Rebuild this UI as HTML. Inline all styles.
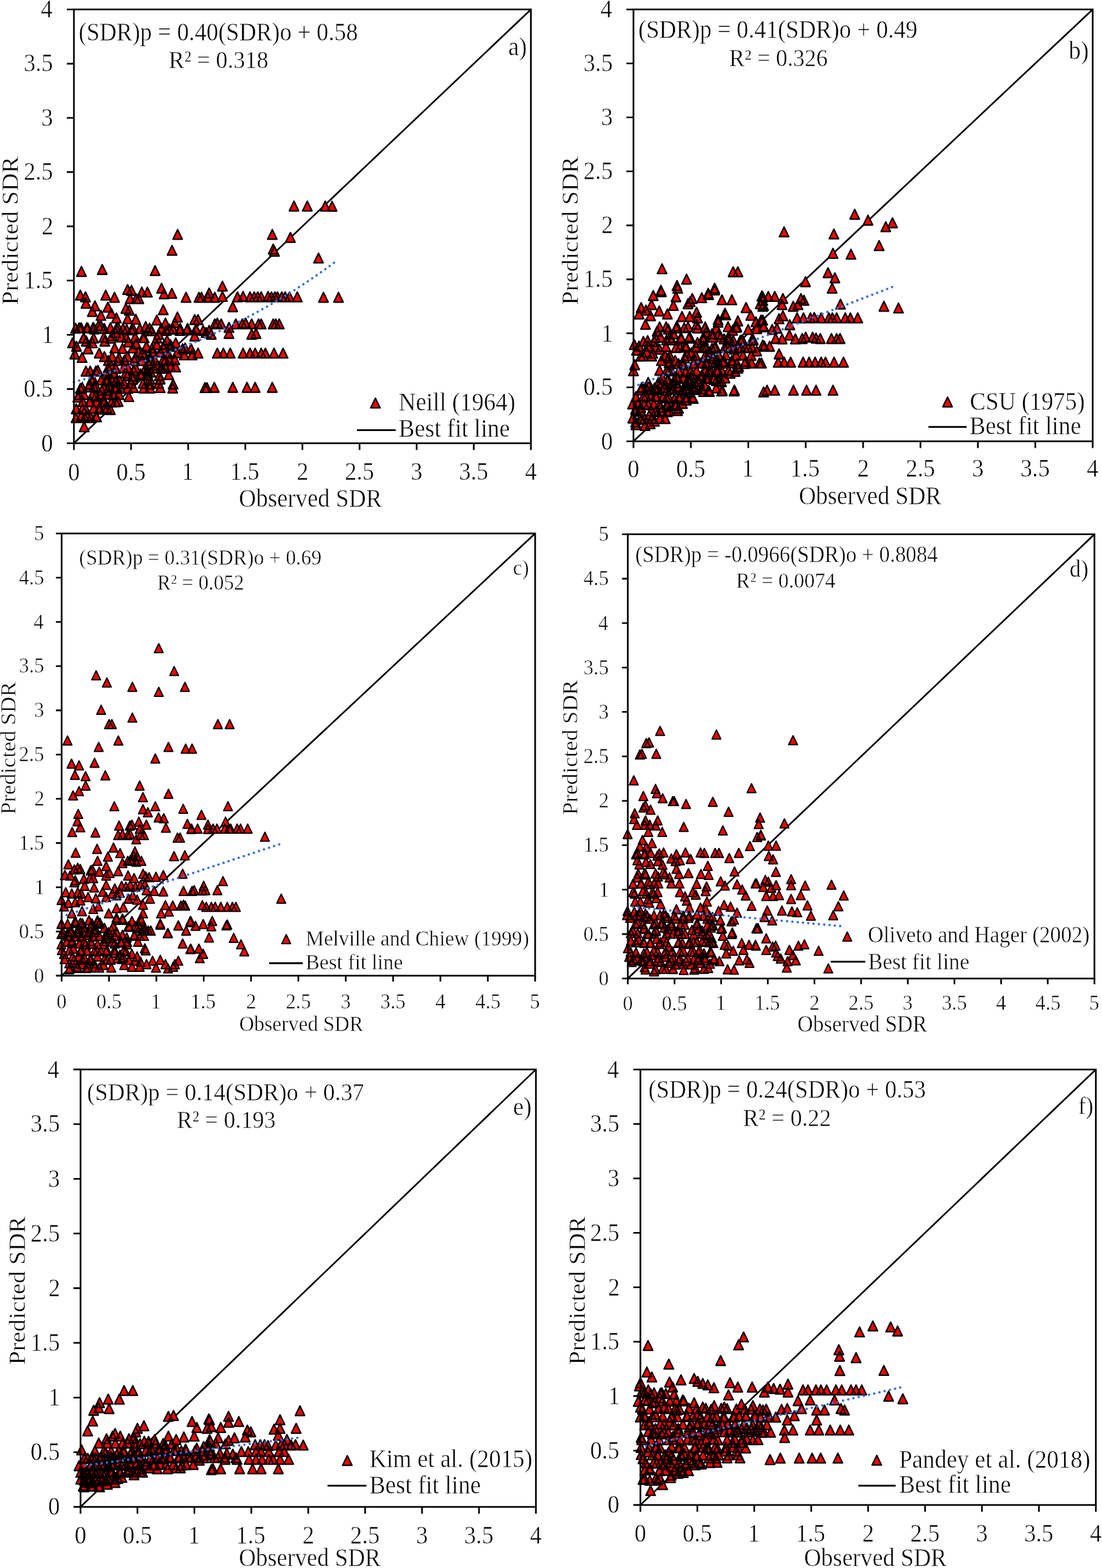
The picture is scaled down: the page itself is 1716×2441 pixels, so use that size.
<!DOCTYPE html>
<html><head><meta charset="utf-8"><title>SDR comparison</title>
<style>html,body{margin:0;padding:0;background:#fff;overflow:hidden;width:1716px;height:2441px;}svg{display:block;}text{font-family:"Liberation Serif",serif;fill:#000;stroke:#fff;stroke-width:0.6px;stroke-opacity:0.9;}</style>
</head><body>
<svg width="1716" height="2441" viewBox="0 0 1716 2441">
<rect width="1716" height="2441" fill="#fff"/>
<line x1="115.1" y1="690.0" x2="826.7" y2="14.7" stroke="#000" stroke-width="2.6"/>
<path d="M221.7,553.8L229.0,568.8L214.4,568.8ZM275.8,541.6L283.1,556.6L268.5,556.6ZM209.4,554.1L216.7,569.1L202.1,569.1ZM143.8,607.3L151.1,622.3L136.5,622.3ZM123.6,606.9L130.9,621.9L116.3,621.9ZM168.0,584.2L175.3,599.2L160.7,599.2ZM256.0,528.5L263.3,543.5L248.7,543.5ZM123.3,502.7L130.6,517.7L116.0,517.7ZM176.1,607.0L183.4,622.0L168.8,622.0ZM136.6,503.1L143.9,518.1L129.3,518.1ZM263.6,504.4L270.9,519.4L256.3,519.4ZM181.0,503.9L188.3,518.9L173.7,518.9ZM226.1,566.0L233.4,581.0L218.8,581.0ZM161.8,517.3L169.1,532.3L154.5,532.3ZM228.5,576.5L235.8,591.5L221.2,591.5ZM162.5,628.5L169.8,643.5L155.2,643.5ZM305.2,504.3L312.5,519.3L297.9,519.3ZM168.8,553.7L176.1,568.7L161.5,568.7ZM133.6,629.5L140.9,644.5L126.3,644.5ZM118.7,628.9L126.0,643.9L111.4,643.9ZM172.6,518.8L179.9,533.8L165.3,533.8ZM150.4,617.8L157.7,632.8L143.1,632.8ZM224.5,518.2L231.8,533.2L217.2,533.2ZM241.2,553.2L248.5,568.2L233.9,568.2ZM149.4,640.3L156.7,655.3L142.1,655.3ZM249.5,540.3L256.8,555.3L242.2,555.3ZM157.8,583.8L165.1,598.8L150.5,598.8ZM280.6,503.7L287.9,518.7L273.3,518.7ZM180.3,566.1L187.6,581.1L173.0,581.1ZM196.9,517.7L204.2,532.7L189.6,532.7ZM156.1,606.2L163.4,621.2L148.8,621.2ZM168.4,565.1L175.7,580.1L161.1,580.1ZM186.3,585.1L193.6,600.1L179.0,600.1ZM233.0,503.3L240.3,518.3L225.7,518.3ZM145.8,518.7L153.1,533.7L138.5,533.7ZM189.0,517.0L196.3,532.0L181.7,532.0ZM265.4,528.9L272.7,543.9L258.1,543.9ZM261.4,542.1L268.7,557.1L254.1,557.1ZM206.4,578.1L213.7,593.1L199.1,593.1ZM237.4,540.5L244.7,555.5L230.1,555.5ZM181.8,595.2L189.1,610.2L174.5,610.2ZM292.1,503.8L299.4,518.8L284.8,518.8ZM250.3,565.8L257.6,580.8L243.0,580.8ZM207.6,504.5L214.9,519.5L200.3,519.5ZM126.4,640.2L133.7,655.2L119.1,655.2ZM169.9,595.7L177.2,610.7L162.6,610.7ZM192.4,564.9L199.7,579.9L185.1,579.9ZM251.4,503.8L258.7,518.8L244.1,518.8ZM162.4,503.8L169.7,518.8L155.1,518.8ZM128.9,617.7L136.2,632.7L121.6,632.7ZM185.3,606.6L192.6,621.6L178.0,621.6ZM138.4,594.8L145.7,609.8L131.1,609.8ZM146.2,595.1L153.5,610.1L138.9,610.1ZM168.8,605.9L176.1,620.9L161.5,620.9ZM244.5,518.7L251.8,533.7L237.2,533.7ZM161.3,595.5L168.6,610.5L154.0,610.5ZM128.0,595.4L135.3,610.4L120.7,610.4ZM215.5,540.6L222.8,555.6L208.2,555.6ZM140.6,617.3L147.9,632.3L133.3,632.3ZM183.4,553.7L190.7,568.7L176.1,568.7ZM221.7,542.1L229.0,557.1L214.4,557.1ZM173.4,618.4L180.7,633.4L166.1,633.4ZM145.7,628.2L153.0,643.2L138.4,643.2ZM217.8,504.0L225.1,519.0L210.5,519.0ZM198.6,577.0L205.9,592.0L191.3,592.0ZM220.8,576.6L228.1,591.6L213.5,591.6ZM129.9,518.8L137.2,533.8L122.6,533.8ZM174.3,583.9L181.6,598.9L167.0,598.9ZM263.8,552.8L271.1,567.8L256.5,567.8ZM130.9,606.7L138.2,621.7L123.6,621.7ZM193.9,552.7L201.2,567.7L186.6,567.7ZM254.1,552.3L261.4,567.3L246.8,567.3ZM153.9,628.9L161.2,643.9L146.6,643.9ZM239.6,565.2L246.9,580.2L232.3,580.2ZM233.5,553.7L240.8,568.7L226.2,568.7ZM211.0,564.6L218.3,579.6L203.7,579.6ZM191.6,503.9L198.9,518.9L184.3,518.9ZM258.2,565.5L265.5,580.5L250.9,580.5ZM210.5,517.2L217.8,532.2L203.2,532.2ZM135.3,639.5L142.6,654.5L128.0,654.5ZM160.6,617.5L167.9,632.5L153.3,632.5ZM146.9,504.5L154.2,519.5L139.6,519.5ZM199.1,564.7L206.4,579.7L191.8,579.7ZM276.6,357.4L283.9,372.4L269.3,372.4ZM267.9,382.2L275.2,397.2L260.6,397.2ZM126.8,415.0L134.1,430.0L119.5,430.0ZM159.2,412.0L166.5,427.0L151.9,427.0ZM241.5,413.7L248.8,428.7L234.2,428.7ZM457.8,313.3L465.1,328.3L450.5,328.3ZM478.5,313.3L485.8,328.3L471.2,328.3ZM506.4,313.3L513.7,328.3L499.1,328.3ZM517.1,313.5L524.4,328.5L509.8,328.5ZM424.0,357.4L431.3,372.4L416.7,372.4ZM452.2,362.1L459.5,377.1L444.9,377.1ZM427.4,383.5L434.7,398.5L420.1,398.5ZM425.4,380.2L432.7,395.2L418.1,395.2ZM496.0,394.2L503.3,409.2L488.7,409.2ZM125.1,451.9L132.4,466.9L117.8,466.9ZM133.1,454.6L140.4,469.6L125.8,469.6ZM164.6,451.9L171.9,466.9L157.3,466.9ZM178.3,455.3L185.6,470.3L171.0,470.3ZM198.7,443.2L206.0,458.2L191.4,458.2ZM204.7,444.5L212.0,459.5L197.4,459.5ZM220.8,447.2L228.1,462.2L213.5,462.2ZM229.5,447.2L236.8,462.2L222.2,462.2ZM251.5,441.2L258.8,456.2L244.2,456.2ZM255.6,449.9L262.9,464.9L248.3,464.9ZM267.6,449.2L274.9,464.2L260.3,464.2ZM289.7,455.3L297.0,470.3L282.4,470.3ZM309.8,455.3L317.1,470.3L302.5,470.3ZM313.8,455.3L321.1,470.3L306.5,470.3ZM202.7,457.3L210.0,472.3L195.4,472.3ZM212.1,457.3L219.4,472.3L204.8,472.3ZM216.1,457.3L223.4,472.3L208.8,472.3ZM133.8,464.6L141.1,479.6L126.5,479.6ZM147.8,468.6L155.1,483.6L140.5,483.6ZM143.8,477.3L151.1,492.3L136.5,492.3ZM167.9,470.6L175.2,485.6L160.6,485.6ZM157.2,483.4L164.5,498.4L149.9,498.4ZM173.3,480.0L180.6,495.0L166.0,495.0ZM196.0,472.6L203.3,487.6L188.7,487.6ZM201.4,475.3L208.7,490.3L194.1,490.3ZM254.2,474.7L261.5,489.7L246.9,489.7ZM181.3,487.4L188.6,502.4L174.0,502.4ZM198.7,488.7L206.0,503.7L191.4,503.7ZM211.4,489.4L218.7,504.4L204.1,504.4ZM244.2,490.7L251.5,505.7L236.9,505.7ZM276.3,486.0L283.6,501.0L269.0,501.0ZM257.6,495.4L264.9,510.4L250.3,510.4ZM272.3,494.7L279.6,509.7L265.0,509.7ZM303.1,490.0L310.4,505.0L295.8,505.0ZM308.4,490.0L315.7,505.0L301.1,505.0ZM117.7,503.4L125.0,518.4L110.4,518.4ZM126.4,502.8L133.7,517.8L119.1,517.8ZM135.1,502.8L142.4,517.8L127.8,517.8ZM145.1,502.1L152.4,517.1L137.8,517.1ZM153.2,499.4L160.5,514.4L145.9,514.4ZM157.2,499.4L164.5,514.4L149.9,514.4ZM171.9,502.8L179.2,517.8L164.6,517.8ZM184.0,502.1L191.3,517.1L176.7,517.1ZM197.3,505.4L204.6,520.4L190.0,520.4ZM204.7,506.1L212.0,521.1L197.4,521.1ZM226.8,500.8L234.1,515.8L219.5,515.8ZM230.1,506.8L237.4,521.8L222.8,521.8ZM236.2,507.4L243.5,522.4L228.9,522.4ZM258.9,506.8L266.2,521.8L251.6,521.8ZM269.6,504.8L276.9,519.8L262.3,519.8ZM280.3,506.8L287.6,521.8L273.0,521.8ZM291.0,506.1L298.3,521.1L283.7,521.1ZM305.7,506.1L313.0,521.1L298.4,521.1ZM316.4,506.8L323.7,521.8L309.1,521.8ZM246.9,512.8L254.2,527.8L239.6,527.8ZM113.0,526.2L120.3,541.2L105.7,541.2ZM119.1,531.5L126.4,546.5L111.8,546.5ZM130.4,518.2L137.7,533.2L123.1,533.2ZM134.4,523.5L141.7,538.5L127.1,538.5ZM143.8,526.2L151.1,541.2L136.5,541.2ZM137.1,535.5L144.4,550.5L129.8,550.5ZM116.4,543.6L123.7,558.6L109.1,558.6ZM127.8,548.9L135.1,563.9L120.5,563.9ZM163.2,523.5L170.5,538.5L155.9,538.5ZM174.6,514.8L181.9,529.8L167.3,529.8ZM179.9,510.1L187.2,525.1L172.6,525.1ZM178.6,534.2L185.9,549.2L171.3,549.2ZM190.7,534.9L198.0,549.9L183.4,549.9ZM200.0,524.8L207.3,539.8L192.7,539.8ZM206.7,534.2L214.0,549.2L199.4,549.2ZM212.1,527.5L219.4,542.5L204.8,542.5ZM222.8,518.2L230.1,533.2L215.5,533.2ZM228.1,531.5L235.4,546.5L220.8,546.5ZM236.8,534.2L244.1,549.2L229.5,549.2ZM244.2,528.9L251.5,543.9L236.9,543.9ZM254.9,534.2L262.2,549.2L247.6,549.2ZM260.2,522.2L267.5,537.2L252.9,537.2ZM266.9,531.5L274.2,546.5L259.6,546.5ZM273.6,526.2L280.9,541.2L266.3,541.2ZM284.3,535.5L291.6,550.5L277.0,550.5ZM288.3,534.2L295.6,549.2L281.0,549.2ZM297.7,535.5L305.0,550.5L290.4,550.5ZM308.4,542.2L315.7,557.2L301.1,557.2ZM303.1,515.5L310.4,530.5L295.8,530.5ZM154.5,542.2L161.8,557.2L147.2,557.2ZM162.5,547.6L169.8,562.6L155.2,562.6ZM174.6,547.6L181.9,562.6L167.3,562.6ZM185.3,548.9L192.6,563.9L178.0,563.9ZM198.7,547.6L206.0,562.6L191.4,562.6ZM210.7,548.9L218.0,563.9L203.4,563.9ZM225.4,544.9L232.7,559.9L218.1,559.9ZM233.5,548.9L240.8,563.9L226.2,563.9ZM257.6,552.9L264.9,567.9L250.3,567.9ZM272.3,552.3L279.6,567.3L265.0,567.3ZM287.0,544.9L294.3,559.9L279.7,559.9ZM299.1,544.9L306.4,559.9L291.8,559.9ZM173.3,562.3L180.6,577.3L166.0,577.3ZM133.8,570.3L141.1,585.3L126.5,585.3ZM140.5,570.3L147.8,585.3L133.2,585.3ZM149.2,570.3L156.5,585.3L141.9,585.3ZM152.5,569.0L159.8,584.0L145.2,584.0ZM165.9,574.4L173.2,589.4L158.6,589.4ZM177.3,573.0L184.6,588.0L170.0,588.0ZM196.0,573.0L203.3,588.0L188.7,588.0ZM208.0,569.0L215.3,584.0L200.7,584.0ZM218.8,574.4L226.1,589.4L211.5,589.4ZM229.5,569.0L236.8,584.0L222.2,584.0ZM234.8,571.7L242.1,586.7L227.5,586.7ZM248.2,577.0L255.5,592.0L240.9,592.0ZM252.2,565.0L259.5,580.0L244.9,580.0ZM265.6,563.7L272.9,578.7L258.3,578.7ZM273.6,563.7L280.9,578.7L266.3,578.7ZM262.9,575.7L270.2,590.7L255.6,590.7ZM232.1,559.6L239.4,574.6L224.8,574.6ZM245.5,561.0L252.8,576.0L238.2,576.0ZM145.1,582.4L152.4,597.4L137.8,597.4ZM165.2,585.1L172.5,600.1L157.9,600.1ZM179.9,586.4L187.2,601.4L172.6,601.4ZM193.3,589.1L200.6,604.1L186.0,604.1ZM204.0,589.1L211.3,604.1L196.7,604.1ZM222.8,589.1L230.1,604.1L215.5,604.1ZM233.5,590.4L240.8,605.4L226.2,605.4ZM246.9,589.1L254.2,604.1L239.6,604.1ZM269.6,590.4L276.9,605.4L262.3,605.4ZM323.7,455.3L331.0,470.3L316.4,470.3ZM334.4,455.3L341.7,470.3L327.1,470.3ZM346.4,453.9L353.7,468.9L339.1,468.9ZM346.4,437.9L353.7,452.9L339.1,452.9ZM325.7,448.6L333.0,463.6L318.4,463.6ZM369.8,454.6L377.1,469.6L362.5,469.6ZM378.5,453.9L385.8,468.9L371.2,468.9ZM389.3,454.6L396.6,469.6L382.0,469.6ZM395.9,454.6L403.2,469.6L388.6,469.6ZM401.3,454.6L408.6,469.6L394.0,469.6ZM406.7,454.6L414.0,469.6L399.4,469.6ZM417.4,453.9L424.7,468.9L410.1,468.9ZM422.7,454.6L430.0,469.6L415.4,469.6ZM428.1,454.6L435.4,469.6L420.8,469.6ZM432.1,454.6L439.4,469.6L424.8,469.6ZM438.8,454.6L446.1,469.6L431.5,469.6ZM444.1,454.6L451.4,469.6L436.8,469.6ZM450.8,454.6L458.1,469.6L443.5,469.6ZM462.9,454.6L470.2,469.6L455.6,469.6ZM503.7,455.3L511.0,470.3L496.4,470.3ZM527.1,455.3L534.4,470.3L519.8,470.3ZM362.5,470.0L369.8,485.0L355.2,485.0ZM334.4,496.7L341.7,511.7L327.1,511.7ZM338.4,495.4L345.7,510.4L331.1,510.4ZM344.4,496.7L351.7,511.7L337.1,511.7ZM356.5,502.1L363.8,517.1L349.2,517.1ZM367.2,496.7L374.5,511.7L359.9,511.7ZM377.2,496.7L384.5,511.7L369.9,511.7ZM382.6,495.4L389.9,510.4L375.3,510.4ZM391.9,496.7L399.2,511.7L384.6,511.7ZM402.6,496.7L409.9,511.7L395.3,511.7ZM406.7,496.7L414.0,511.7L399.4,511.7ZM425.4,496.7L432.7,511.7L418.1,511.7ZM429.4,496.7L436.7,511.7L422.1,511.7ZM434.8,496.7L442.1,511.7L427.5,511.7ZM325.7,506.8L333.0,521.8L318.4,521.8ZM329.0,512.8L336.3,527.8L321.7,527.8ZM321.0,510.1L328.3,525.1L313.7,525.1ZM356.5,511.5L363.8,526.5L349.2,526.5ZM391.9,512.8L399.2,527.8L384.6,527.8ZM398.6,511.5L405.9,526.5L391.3,526.5ZM338.4,542.2L345.7,557.2L331.1,557.2ZM347.8,542.2L355.1,557.2L340.5,557.2ZM358.5,542.2L365.8,557.2L351.2,557.2ZM378.5,542.2L385.8,557.2L371.2,557.2ZM389.3,542.2L396.6,557.2L382.0,557.2ZM397.3,542.2L404.6,557.2L390.0,557.2ZM406.7,542.2L414.0,557.2L399.4,557.2ZM413.3,542.2L420.6,557.2L406.0,557.2ZM426.7,542.2L434.0,557.2L419.4,557.2ZM440.8,542.2L448.1,557.2L433.5,557.2ZM142.5,583.8L149.8,598.8L135.2,598.8ZM165.2,583.8L172.5,598.8L157.9,598.8ZM181.3,584.5L188.6,599.5L174.0,599.5ZM206.7,582.5L214.0,597.5L199.4,597.5ZM233.5,582.5L240.8,597.5L226.2,597.5ZM249.5,582.5L256.8,597.5L242.2,597.5ZM125.1,597.2L132.4,612.2L117.8,612.2ZM208.0,595.9L215.3,610.9L200.7,610.9ZM224.1,596.6L231.4,611.6L216.8,611.6ZM233.5,596.6L240.8,611.6L226.2,611.6ZM249.5,595.9L256.8,610.9L242.2,610.9ZM268.9,596.6L276.2,611.6L261.6,611.6ZM319.1,595.9L326.4,610.9L311.8,610.9ZM121.1,610.6L128.4,625.6L113.8,625.6ZM139.8,590.5L147.1,605.5L132.5,605.5ZM149.2,593.2L156.5,608.2L141.9,608.2ZM158.5,599.9L165.8,614.9L151.2,614.9ZM167.9,599.9L175.2,614.9L160.6,614.9ZM178.6,597.2L185.9,612.2L171.3,612.2ZM188.0,597.2L195.3,612.2L180.7,612.2ZM198.7,597.2L206.0,612.2L191.4,612.2ZM149.2,609.3L156.5,624.3L141.9,624.3ZM200.7,609.9L208.0,624.9L193.4,624.9ZM139.1,618.0L146.4,633.0L131.8,633.0ZM163.2,618.0L170.5,633.0L155.9,633.0ZM179.9,618.0L187.2,633.0L172.6,633.0ZM184.0,617.3L191.3,632.3L176.7,632.3ZM128.4,628.7L135.7,643.7L121.1,643.7ZM166.6,628.0L173.9,643.0L159.3,643.0ZM171.9,630.0L179.2,645.0L164.6,645.0ZM155.9,629.3L163.2,644.3L148.6,644.3ZM118.4,642.7L125.7,657.7L111.1,657.7ZM131.8,642.7L139.1,657.7L124.5,657.7ZM141.8,642.7L149.1,657.7L134.5,657.7ZM150.5,641.4L157.8,656.4L143.2,656.4ZM131.1,656.8L138.4,671.8L123.8,671.8ZM322.3,595.9L329.6,610.9L315.0,610.9ZM333.7,595.5L341.0,610.5L326.4,610.5ZM362.5,595.5L369.8,610.5L355.2,610.5ZM384.6,595.5L391.9,610.5L377.3,610.5ZM397.3,595.5L404.6,610.5L390.0,610.5ZM424.0,595.5L431.3,610.5L416.7,610.5Z" fill="#ff0000" stroke="#000" stroke-width="2.3" stroke-linejoin="round"/>
<polyline points="115.1,594.6 121.9,592.9 128.6,591.1 135.4,589.3 142.1,587.5 148.9,585.6 155.7,583.7 162.4,581.8 169.2,579.8 175.9,577.8 182.7,575.8 189.5,573.7 196.2,571.6 203.0,569.4 209.7,567.2 216.5,565.0 223.3,562.7 230.0,560.4 236.8,558.0 243.5,555.6 250.3,553.2 257.1,550.7 263.8,548.2 270.6,545.6 277.3,543.0 284.1,540.3 290.9,537.5 297.6,534.8 304.4,532.0 311.1,529.1 317.9,526.1 324.7,523.2 331.4,520.1 338.2,517.0 344.9,513.9 351.7,510.7 358.5,507.4 365.2,504.1 372.0,500.7 378.7,497.3 385.5,493.8 392.3,490.2 399.0,486.6 405.8,482.9 412.5,479.1 419.3,475.2 426.1,471.3 432.8,467.4 439.6,463.3 446.3,459.2 453.1,455.0 459.9,450.7 466.6,446.3 473.4,441.9 480.2,437.4 486.9,432.8 493.7,428.1 500.4,423.4 507.2,418.5 514.0,413.6 520.7,408.5" fill="none" stroke="#3b6fd6" stroke-width="3.7" stroke-dasharray="0.1 8.2" stroke-linecap="round"/>
<rect x="115.1" y="14.7" width="711.6" height="675.3" fill="none" stroke="#000" stroke-width="2.6"/>
<path d="M115.1,690.0v10.5M115.1,690.0h-11.0M204.1,690.0v10.5M115.1,605.6h-11.0M293.0,690.0v10.5M115.1,521.2h-11.0M382.0,690.0v10.5M115.1,436.8h-11.0M470.9,690.0v10.5M115.1,352.4h-11.0M559.9,690.0v10.5M115.1,267.9h-11.0M648.8,690.0v10.5M115.1,183.5h-11.0M737.8,690.0v10.5M115.1,99.1h-11.0M826.7,690.0v10.5M115.1,14.7h-11.0" stroke="#000" stroke-width="2.6" fill="none"/>
<path d="M584.6,619.9L591.9,634.9L577.3,634.9Z" fill="#ff0000" stroke="#000" stroke-width="2.3" stroke-linejoin="round"/>
<line x1="555.8" y1="669.7" x2="616.2" y2="669.7" stroke="#000" stroke-width="2.8"/>
<line x1="986.4" y1="687.0" x2="1701.5" y2="14.7" stroke="#000" stroke-width="2.6"/>
<path d="M985.3,643.3L992.6,658.3L978.0,658.3ZM1069.6,599.0L1076.9,614.0L1062.3,614.0ZM1030.0,632.4L1037.3,647.4L1022.7,647.4ZM1084.3,533.0L1091.6,548.0L1077.0,548.0ZM1003.9,643.8L1011.2,658.8L996.6,658.8ZM1064.4,581.5L1071.7,596.5L1057.1,596.5ZM1115.5,502.8L1122.8,517.8L1108.2,517.8ZM1037.0,531.9L1044.3,546.9L1029.7,546.9ZM1077.8,610.8L1085.1,625.8L1070.5,625.8ZM1093.7,557.6L1101.0,572.6L1086.4,572.6ZM1002.0,609.6L1009.3,624.6L994.7,624.6ZM1126.1,557.6L1133.4,572.6L1118.8,572.6ZM1134.5,568.7L1141.8,583.7L1127.2,583.7ZM1059.0,533.2L1066.3,548.2L1051.7,548.2ZM1169.7,545.7L1177.0,560.7L1162.4,560.7ZM1051.3,621.4L1058.6,636.4L1044.0,636.4ZM1041.4,611.1L1048.7,626.1L1034.1,626.1ZM1119.5,546.1L1126.8,561.1L1112.2,561.1ZM1038.7,622.0L1046.0,637.0L1031.4,637.0ZM1018.1,621.3L1025.4,636.3L1010.8,636.3ZM1041.9,557.3L1049.2,572.3L1034.6,572.3ZM1079.9,598.9L1087.2,613.9L1072.6,613.9ZM1159.6,533.9L1166.9,548.9L1152.3,548.9ZM1042.5,631.9L1049.8,646.9L1035.2,646.9ZM1030.8,589.2L1038.1,604.2L1023.5,604.2ZM1141.8,522.6L1149.1,537.6L1134.5,537.6ZM990.2,609.9L997.5,624.9L982.9,624.9ZM1099.3,558.5L1106.6,573.5L1092.0,573.5ZM1097.3,532.2L1104.6,547.2L1090.0,547.2ZM1140.4,557.1L1147.7,572.1L1133.1,572.1ZM1009.0,531.1L1016.3,546.1L1001.7,546.1ZM1066.7,531.2L1074.0,546.2L1059.4,546.2ZM1065.5,502.7L1072.8,517.7L1058.2,517.7ZM1133.7,501.1L1141.0,516.1L1126.4,516.1ZM1137.7,533.1L1145.0,548.1L1130.4,548.1ZM1001.6,546.3L1008.9,561.3L994.3,561.3ZM1144.6,570.6L1151.9,585.6L1137.3,585.6ZM1014.2,632.1L1021.5,647.1L1006.9,647.1ZM1047.4,588.9L1054.7,603.9L1040.1,603.9ZM1083.1,545.4L1090.4,560.4L1075.8,560.4ZM1075.7,569.9L1083.0,584.9L1068.4,584.9ZM1098.6,545.1L1105.9,560.1L1091.3,560.1ZM1027.2,621.7L1034.5,636.7L1019.9,636.7ZM1070.0,545.8L1077.3,560.8L1062.7,560.8ZM1027.2,568.9L1034.5,583.9L1019.9,583.9ZM995.0,531.3L1002.3,546.3L987.7,546.3ZM1097.8,502.6L1105.1,517.6L1090.5,517.6ZM997.8,599.5L1005.1,614.5L990.5,614.5ZM1117.5,557.7L1124.8,572.7L1110.2,572.7ZM1024.4,599.1L1031.7,614.1L1017.1,614.1ZM1028.8,517.1L1036.1,532.1L1021.5,532.1ZM1134.1,516.9L1141.4,531.9L1126.8,531.9ZM1122.3,516.8L1129.6,531.8L1115.0,531.8ZM1069.2,592.7L1076.5,607.7L1061.9,607.7ZM990.0,653.7L997.3,668.7L982.7,668.7ZM985.1,621.3L992.4,636.3L977.8,636.3ZM1045.7,569.8L1053.0,584.8L1038.4,584.8ZM1101.4,581.5L1108.7,596.5L1094.1,596.5ZM1055.4,580.8L1062.7,595.8L1048.1,595.8ZM1100.0,533.5L1107.3,548.5L1092.7,548.5ZM1043.2,546.5L1050.5,561.5L1035.9,561.5ZM1150.2,534.0L1157.5,549.0L1142.9,549.0ZM1110.8,581.3L1118.1,596.3L1103.5,596.3ZM1146.2,545.6L1153.5,560.6L1138.9,560.6ZM1097.9,593.0L1105.2,608.0L1090.6,608.0ZM1035.9,644.0L1043.2,659.0L1028.6,659.0ZM1063.7,557.5L1071.0,572.5L1056.4,572.5ZM1074.2,588.6L1081.5,603.6L1066.9,603.6ZM1128.1,533.9L1135.4,548.9L1120.8,548.9ZM1031.4,580.8L1038.7,595.8L1024.1,595.8ZM1021.9,631.5L1029.2,646.5L1014.6,646.5ZM1109.7,517.3L1117.0,532.3L1102.4,532.3ZM997.2,632.5L1004.5,647.5L989.9,647.5ZM1074.0,516.5L1081.3,531.5L1066.7,531.5ZM1031.9,610.5L1039.2,625.5L1024.6,625.5ZM1037.5,600.2L1044.8,615.2L1030.2,615.2ZM1056.6,558.5L1063.9,573.5L1049.3,573.5ZM1035.8,546.3L1043.1,561.3L1028.5,561.3ZM1098.3,568.9L1105.6,583.9L1091.0,583.9ZM1170.3,522.2L1177.6,537.2L1163.0,537.2ZM1048.5,598.5L1055.8,613.5L1041.2,613.5ZM1091.8,582.1L1099.1,597.1L1084.5,597.1ZM1006.9,598.5L1014.2,613.5L999.6,613.5ZM1104.9,546.4L1112.2,561.4L1097.6,561.4ZM1080.3,558.2L1087.6,573.2L1073.0,573.2ZM1130.3,545.2L1137.6,560.2L1123.0,560.2ZM1053.2,503.2L1060.5,518.2L1045.9,518.2ZM1128.9,580.8L1136.2,595.8L1121.6,595.8ZM1014.6,598.9L1021.9,613.9L1007.3,613.9ZM1054.9,631.6L1062.2,646.6L1047.6,646.6ZM1060.4,517.6L1067.7,532.6L1053.1,532.6ZM1068.8,610.8L1076.1,625.8L1061.5,625.8ZM1147.6,501.2L1154.9,516.2L1140.3,516.2ZM1118.2,569.2L1125.5,584.2L1110.9,584.2ZM1112.8,533.2L1120.1,548.2L1105.5,548.2ZM996.7,643.9L1004.0,658.9L989.4,658.9ZM1024.7,588.7L1032.0,603.7L1017.4,603.7ZM1086.3,503.1L1093.6,518.1L1079.0,518.1ZM1084.6,569.5L1091.9,584.5L1077.3,584.5ZM1077.4,581.6L1084.7,596.6L1070.1,596.6ZM1095.4,517.0L1102.7,532.0L1088.1,532.0ZM1020.9,517.9L1028.2,532.9L1013.6,532.9ZM1062.7,620.5L1070.0,635.5L1055.4,635.5ZM993.2,621.5L1000.5,636.5L985.9,636.5ZM1068.7,588.2L1076.0,603.2L1061.4,603.2ZM1013.3,609.7L1020.6,624.7L1006.0,624.7ZM1014.9,643.6L1022.2,658.6L1007.6,658.6ZM1014.8,546.6L1022.1,561.6L1007.5,561.6ZM1052.0,588.5L1059.3,603.5L1044.7,603.5ZM1003.3,621.9L1010.6,636.9L996.0,636.9ZM1027.4,643.9L1034.7,658.9L1020.1,658.9ZM1038.4,568.7L1045.7,583.7L1031.1,583.7ZM1040.2,582.4L1047.5,597.4L1032.9,597.4ZM1147.9,558.6L1155.2,573.6L1140.6,573.6ZM1057.0,570.1L1064.3,585.1L1049.7,585.1ZM1063.2,598.8L1070.5,613.8L1055.9,613.8ZM1009.4,587.8L1016.7,602.8L1002.1,602.8ZM1106.9,570.5L1114.2,585.5L1099.6,585.5ZM1020.8,532.4L1028.1,547.4L1013.5,547.4ZM1085.1,593.5L1092.4,608.5L1077.8,608.5ZM990.1,631.6L997.4,646.6L982.8,646.6ZM1159.6,558.3L1166.9,573.3L1152.3,573.3ZM1171.3,533.7L1178.6,548.7L1164.0,548.7ZM1057.5,609.7L1064.8,624.7L1050.2,624.7ZM1042.7,518.1L1050.0,533.1L1035.4,533.1ZM1156.9,545.4L1164.2,560.4L1149.6,560.4ZM1133.5,521.9L1140.8,536.9L1126.2,536.9ZM1022.7,610.1L1030.0,625.1L1015.4,625.1ZM1155.9,521.3L1163.2,536.3L1148.6,536.3ZM1030.9,410.9L1038.2,425.9L1023.6,425.9ZM1069.1,427.0L1076.4,442.0L1061.8,442.0ZM1141.6,415.6L1148.9,430.6L1134.3,430.6ZM1149.0,415.6L1156.3,430.6L1141.7,430.6ZM1054.2,437.0L1061.5,452.0L1046.9,452.0ZM1029.2,444.4L1036.5,459.4L1021.9,459.4ZM1112.8,441.1L1120.1,456.1L1105.5,456.1ZM1102.8,449.1L1110.1,464.1L1095.5,464.1ZM1029.9,446.5L1037.2,461.5L1022.6,461.5ZM1055.3,441.2L1062.6,456.2L1048.0,456.2ZM1112.8,443.8L1120.1,458.8L1105.5,458.8ZM1017.2,452.5L1024.5,467.5L1009.9,467.5ZM1052.6,454.5L1059.9,469.5L1045.3,469.5ZM1078.0,457.2L1085.3,472.2L1070.7,472.2ZM1092.8,455.9L1100.1,470.9L1085.5,470.9ZM1103.5,451.2L1110.8,466.2L1096.2,466.2ZM1124.2,459.2L1131.5,474.2L1116.9,474.2ZM1139.6,459.2L1146.9,474.2L1132.3,474.2ZM1186.4,453.2L1193.7,468.2L1179.1,468.2ZM1187.8,459.9L1195.1,474.9L1180.5,474.9ZM998.4,471.3L1005.7,486.3L991.1,486.3ZM1014.5,466.6L1021.8,481.6L1007.2,481.6ZM1005.8,475.3L1013.1,490.3L998.5,490.3ZM1048.6,467.9L1055.9,482.9L1041.3,482.9ZM1071.4,465.3L1078.7,480.3L1064.1,480.3ZM1074.7,461.9L1082.0,476.9L1067.4,476.9ZM1026.5,476.6L1033.8,491.6L1019.2,491.6ZM1039.2,481.3L1046.5,496.3L1031.9,496.3ZM1013.1,484.0L1020.4,499.0L1005.8,499.0ZM995.1,481.3L1002.4,496.3L987.8,496.3ZM1161.7,471.3L1169.0,486.3L1154.4,486.3ZM1183.8,465.3L1191.1,480.3L1176.5,480.3ZM1187.8,469.3L1195.1,484.3L1180.5,484.3ZM1062.0,485.3L1069.3,500.3L1054.7,500.3ZM1074.0,485.3L1081.3,500.3L1066.7,500.3ZM1084.7,478.6L1092.0,493.6L1077.4,493.6ZM1086.1,487.3L1093.4,502.3L1078.8,502.3ZM1128.9,480.0L1136.2,495.0L1121.6,495.0ZM1130.2,482.6L1137.5,497.6L1122.9,497.6ZM1118.2,490.0L1125.5,505.0L1110.9,505.0ZM1169.1,483.3L1176.4,498.3L1161.8,498.3ZM1149.0,492.0L1156.3,507.0L1141.7,507.0ZM1185.1,490.7L1192.4,505.7L1177.8,505.7ZM1177.1,493.4L1184.4,508.4L1169.8,508.4ZM1005.1,497.4L1012.4,512.4L997.8,512.4ZM1027.2,501.4L1034.5,516.4L1019.9,516.4ZM1037.2,501.4L1044.5,516.4L1029.9,516.4ZM1040.6,504.7L1047.9,519.7L1033.3,519.7ZM1054.0,500.0L1061.3,515.0L1046.7,515.0ZM1071.4,501.4L1078.7,516.4L1064.1,516.4ZM1084.7,497.4L1092.0,512.4L1077.4,512.4ZM1098.1,501.4L1105.4,516.4L1090.8,516.4ZM1118.2,494.0L1125.5,509.0L1110.9,509.0ZM1146.3,502.1L1153.6,517.1L1139.0,517.1ZM1140.9,506.7L1148.2,521.7L1133.6,521.7ZM1165.0,505.4L1172.3,520.4L1157.7,520.4ZM1178.4,504.1L1185.7,519.1L1171.1,519.1ZM1189.1,501.4L1196.4,516.4L1181.8,516.4ZM1048.6,512.1L1055.9,527.1L1041.3,527.1ZM1023.2,508.1L1030.5,523.1L1015.9,523.1ZM1099.5,509.4L1106.8,524.4L1092.2,524.4ZM1108.8,512.1L1116.1,527.1L1101.5,527.1ZM1118.9,512.8L1126.2,527.8L1111.6,527.8ZM987.7,528.8L995.0,543.8L980.4,543.8ZM1001.8,524.1L1009.1,539.1L994.5,539.1ZM1008.5,522.8L1015.8,537.8L1001.2,537.8ZM1019.2,524.1L1026.5,539.1L1011.9,539.1ZM1037.9,521.5L1045.2,536.5L1030.6,536.5ZM1045.9,521.5L1053.2,536.5L1038.6,536.5ZM1060.7,520.1L1068.0,535.1L1053.4,535.1ZM1072.7,518.8L1080.0,533.8L1065.4,533.8ZM1086.1,525.5L1093.4,540.5L1078.8,540.5ZM1095.4,521.5L1102.7,536.5L1088.1,536.5ZM1127.6,520.1L1134.9,535.1L1120.3,535.1ZM1135.6,518.8L1142.9,533.8L1128.3,533.8ZM1153.0,522.1L1160.3,537.1L1145.7,537.1ZM1173.1,521.5L1180.4,536.5L1165.8,536.5ZM1187.8,529.5L1195.1,544.5L1180.5,544.5ZM991.1,537.5L998.4,552.5L983.8,552.5ZM1007.1,540.2L1014.4,555.2L999.8,555.2ZM1016.5,542.2L1023.8,557.2L1009.2,557.2ZM1027.2,536.2L1034.5,551.2L1019.9,551.2ZM1052.6,533.5L1059.9,548.5L1045.3,548.5ZM1068.7,532.2L1076.0,547.2L1061.4,547.2ZM1076.7,541.5L1084.0,556.5L1069.4,556.5ZM1094.1,533.5L1101.4,548.5L1086.8,548.5ZM1108.8,534.8L1116.1,549.8L1101.5,549.8ZM1114.2,532.2L1121.5,547.2L1106.9,547.2ZM1132.9,530.8L1140.2,545.8L1125.6,545.8ZM1143.6,536.2L1150.9,551.2L1136.3,551.2ZM1154.3,533.5L1161.6,548.5L1147.0,548.5ZM1165.0,533.5L1172.3,548.5L1157.7,548.5ZM1178.4,538.9L1185.7,553.9L1171.1,553.9ZM1104.8,540.2L1112.1,555.2L1097.5,555.2ZM997.8,546.9L1005.1,561.9L990.5,561.9ZM988.4,560.3L995.7,575.3L981.1,575.3ZM1029.9,553.6L1037.2,568.6L1022.6,568.6ZM1040.6,549.6L1047.9,564.6L1033.3,564.6ZM1051.3,553.6L1058.6,568.6L1044.0,568.6ZM1066.0,549.6L1073.3,564.6L1058.7,564.6ZM1063.3,560.3L1070.6,575.3L1056.0,575.3ZM1082.1,552.2L1089.4,567.2L1074.8,567.2ZM1091.4,557.6L1098.7,572.6L1084.1,572.6ZM1102.1,556.3L1109.4,571.3L1094.8,571.3ZM1116.9,552.2L1124.2,567.2L1109.6,567.2ZM1127.6,554.9L1134.9,569.9L1120.3,569.9ZM1139.6,553.6L1146.9,568.6L1132.3,568.6ZM1150.3,562.9L1157.6,577.9L1143.0,577.9ZM1161.0,554.9L1168.3,569.9L1153.7,569.9ZM1170.4,557.6L1177.7,572.6L1163.1,572.6ZM1182.4,557.6L1189.7,572.6L1175.1,572.6ZM1111.5,549.6L1118.8,564.6L1104.2,564.6ZM986.4,569.6L993.7,584.6L979.1,584.6ZM1041.9,569.6L1049.2,584.6L1034.6,584.6ZM1052.6,579.0L1059.9,594.0L1045.3,594.0ZM1067.3,571.0L1074.6,586.0L1060.0,586.0ZM1078.0,575.0L1085.3,590.0L1070.7,590.0ZM1092.8,576.3L1100.1,591.3L1085.5,591.3ZM1103.5,571.0L1110.8,586.0L1096.2,586.0ZM1115.5,568.3L1122.8,583.3L1108.2,583.3ZM1124.9,571.0L1132.2,586.0L1117.6,586.0ZM1136.9,573.7L1144.2,588.7L1129.6,588.7ZM1149.0,565.6L1156.3,580.6L1141.7,580.6ZM1071.4,584.4L1078.7,599.4L1064.1,599.4ZM1086.1,585.7L1093.4,600.7L1078.8,600.7ZM1099.5,581.7L1106.8,596.7L1092.2,596.7ZM1111.5,583.0L1118.8,598.0L1104.2,598.0ZM1119.5,585.7L1126.8,600.7L1112.2,600.7ZM1000.4,595.1L1007.7,610.1L993.1,610.1ZM1010.5,593.7L1017.8,608.7L1003.2,608.7ZM1019.2,596.4L1026.5,611.4L1011.9,611.4ZM1033.9,595.1L1041.2,610.1L1026.6,610.1ZM1044.6,592.4L1051.9,607.4L1037.3,607.4ZM1055.3,593.7L1062.6,608.7L1048.0,608.7ZM1068.7,597.7L1076.0,612.7L1061.4,612.7ZM1079.4,596.4L1086.7,611.4L1072.1,611.4ZM1092.8,597.7L1100.1,612.7L1085.5,612.7ZM1103.5,600.4L1110.8,615.4L1096.2,615.4ZM1115.5,596.4L1122.8,611.4L1108.2,611.4ZM1124.9,600.4L1132.2,615.4L1117.6,615.4ZM1143.6,599.7L1150.9,614.7L1136.3,614.7ZM1039.2,585.2L1046.5,600.2L1031.9,600.2ZM1049.9,583.8L1057.2,598.8L1042.6,598.8ZM1075.4,585.2L1082.7,600.2L1068.1,600.2ZM1088.8,586.5L1096.1,601.5L1081.5,601.5ZM1115.5,585.2L1122.8,600.2L1108.2,600.2ZM1123.6,586.5L1130.9,601.5L1116.3,601.5ZM999.1,595.9L1006.4,610.9L991.8,610.9ZM1011.1,591.9L1018.4,606.9L1003.8,606.9ZM1020.5,597.2L1027.8,612.2L1013.2,612.2ZM1035.2,595.9L1042.5,610.9L1027.9,610.9ZM1047.3,595.9L1054.6,610.9L1040.0,610.9ZM1056.6,594.5L1063.9,609.5L1049.3,609.5ZM1071.4,602.6L1078.7,617.6L1064.1,617.6ZM1082.1,597.2L1089.4,612.2L1074.8,612.2ZM1095.4,601.9L1102.7,616.9L1088.1,616.9ZM1104.8,601.9L1112.1,616.9L1097.5,616.9ZM1123.6,601.2L1130.9,616.2L1116.3,616.2ZM1143.0,601.2L1150.3,616.2L1135.7,616.2ZM1189.1,602.6L1196.4,617.6L1181.8,617.6ZM1005.8,609.3L1013.1,624.3L998.5,624.3ZM1020.5,609.3L1027.8,624.3L1013.2,624.3ZM1037.9,611.9L1045.2,626.9L1030.6,626.9ZM1049.9,613.3L1057.2,628.3L1042.6,628.3ZM1058.0,613.3L1065.3,628.3L1050.7,628.3ZM1068.7,615.3L1076.0,630.3L1061.4,630.3ZM1079.4,612.6L1086.7,627.6L1072.1,627.6ZM997.8,626.7L1005.1,641.7L990.5,641.7ZM1009.8,622.6L1017.1,637.6L1002.5,637.6ZM1028.5,626.7L1035.8,641.7L1021.2,641.7ZM1039.2,625.3L1046.5,640.3L1031.9,640.3ZM1052.6,624.0L1059.9,639.0L1045.3,639.0ZM1056.6,628.0L1063.9,643.0L1049.3,643.0ZM989.7,629.3L997.0,644.3L982.4,644.3ZM1011.1,638.7L1018.4,653.7L1003.8,653.7ZM1020.5,633.4L1027.8,648.4L1013.2,648.4ZM1039.2,633.4L1046.5,648.4L1031.9,648.4ZM989.7,649.4L997.0,664.4L982.4,664.4ZM999.1,645.4L1006.4,660.4L991.8,660.4ZM1012.5,652.1L1019.8,667.1L1005.2,667.1ZM1019.2,648.1L1026.5,663.1L1011.9,663.1ZM1004.4,654.8L1011.7,669.8L997.1,669.8ZM1220.9,353.4L1228.2,368.4L1213.6,368.4ZM1330.9,326.0L1338.2,341.0L1323.6,341.0ZM1351.6,335.3L1358.9,350.3L1344.3,350.3ZM1389.8,339.3L1397.1,354.3L1382.5,354.3ZM1379.3,345.4L1386.6,360.4L1372.0,360.4ZM1298.5,356.7L1305.8,371.7L1291.2,371.7ZM1369.0,374.8L1376.3,389.8L1361.7,389.8ZM1297.1,386.8L1304.4,401.8L1289.8,401.8ZM1325.1,388.2L1332.4,403.2L1317.8,403.2ZM1289.4,417.0L1296.7,432.0L1282.1,432.0ZM1300.1,425.0L1307.4,440.0L1292.8,440.0ZM1254.3,431.0L1261.6,446.0L1247.0,446.0ZM1295.8,441.1L1303.1,456.1L1288.5,456.1ZM1187.7,454.5L1195.0,469.5L1180.4,469.5ZM1196.4,453.9L1203.7,468.9L1189.1,468.9ZM1206.4,453.9L1213.7,468.9L1199.1,468.9ZM1219.1,457.2L1226.4,472.2L1211.8,472.2ZM1247.2,457.2L1254.5,472.2L1239.9,472.2ZM1251.9,459.9L1259.2,474.9L1244.6,474.9ZM1189.0,467.9L1196.3,482.9L1181.7,482.9ZM1217.8,466.6L1225.1,481.6L1210.5,481.6ZM1235.2,469.3L1242.5,484.3L1227.9,484.3ZM1242.5,466.6L1249.8,481.6L1235.2,481.6ZM1308.8,465.9L1316.1,480.9L1301.5,480.9ZM1376.4,469.3L1383.7,484.3L1369.1,484.3ZM1399.1,471.9L1406.4,486.9L1391.8,486.9ZM1241.2,487.3L1248.5,502.3L1233.9,502.3ZM1251.2,487.3L1258.5,502.3L1243.9,502.3ZM1262.0,487.3L1269.3,502.3L1254.7,502.3ZM1268.0,486.7L1275.3,501.7L1260.7,501.7ZM1278.7,487.3L1286.0,502.3L1271.4,502.3ZM1290.7,487.3L1298.0,502.3L1283.4,502.3ZM1296.1,487.3L1303.4,502.3L1288.8,502.3ZM1302.8,487.3L1310.1,502.3L1295.5,502.3ZM1316.2,487.3L1323.5,502.3L1308.9,502.3ZM1324.2,487.3L1331.5,502.3L1316.9,502.3ZM1335.6,487.3L1342.9,502.3L1328.3,502.3ZM1219.1,484.0L1226.4,499.0L1211.8,499.0ZM1213.1,488.7L1220.4,503.7L1205.8,503.7ZM1187.7,490.7L1195.0,505.7L1180.4,505.7ZM1189.0,500.0L1196.3,515.0L1181.7,515.0ZM1229.8,498.0L1237.1,513.0L1222.5,513.0ZM1202.4,505.4L1209.7,520.4L1195.1,520.4ZM1209.8,503.4L1217.1,518.4L1202.5,518.4ZM1207.8,519.5L1215.1,534.5L1200.5,534.5ZM1217.8,520.1L1225.1,535.1L1210.5,535.1ZM1229.2,514.1L1236.5,529.1L1221.9,529.1ZM1238.5,520.1L1245.8,535.1L1231.2,535.1ZM1249.2,519.5L1256.5,534.5L1241.9,534.5ZM1254.6,517.4L1261.9,532.4L1247.3,532.4ZM1265.3,517.4L1272.6,532.4L1258.0,532.4ZM1270.7,518.8L1278.0,533.8L1263.4,533.8ZM1277.3,519.5L1284.6,534.5L1270.0,534.5ZM1294.7,519.5L1302.0,534.5L1287.4,534.5ZM1302.8,519.5L1310.1,534.5L1295.5,534.5ZM1308.1,519.5L1315.4,534.5L1300.8,534.5ZM1190.4,531.5L1197.7,546.5L1183.1,546.5ZM1198.4,531.5L1205.7,546.5L1191.1,546.5ZM1213.1,543.5L1220.4,558.5L1205.8,558.5ZM1211.8,556.3L1219.1,571.3L1204.5,571.3ZM1221.1,556.3L1228.4,571.3L1213.8,571.3ZM1231.2,556.3L1238.5,571.3L1223.9,571.3ZM1250.6,556.3L1257.9,571.3L1243.3,571.3ZM1259.9,556.3L1267.2,571.3L1252.6,571.3ZM1269.3,556.3L1276.6,571.3L1262.0,571.3ZM1278.7,556.3L1286.0,571.3L1271.4,571.3ZM1285.4,556.3L1292.7,571.3L1278.1,571.3ZM1298.8,556.3L1306.1,571.3L1291.5,571.3ZM1313.5,556.3L1320.8,571.3L1306.2,571.3ZM1185.7,557.6L1193.0,572.6L1178.4,572.6ZM1194.4,599.9L1201.7,614.9L1187.1,614.9ZM1206.4,599.9L1213.7,614.9L1199.1,614.9ZM1235.6,599.9L1242.9,614.9L1228.3,614.9ZM1255.9,599.9L1263.2,614.9L1248.6,614.9ZM1270.7,599.9L1278.0,614.9L1263.4,614.9ZM1297.1,599.9L1304.4,614.9L1289.8,614.9Z" fill="#ff0000" stroke="#000" stroke-width="2.3" stroke-linejoin="round"/>
<line x1="986.4" y1="602.1" x2="1391.7" y2="445.9" stroke="#3b6fd6" stroke-width="3.7" stroke-dasharray="0.1 8.2" stroke-linecap="round"/>
<rect x="986.4" y="14.7" width="715.1" height="672.3" fill="none" stroke="#000" stroke-width="2.6"/>
<path d="M986.4,687.0v10.5M986.4,687.0h-11.0M1075.8,687.0v10.5M986.4,603.0h-11.0M1165.2,687.0v10.5M986.4,518.9h-11.0M1254.6,687.0v10.5M986.4,434.9h-11.0M1344.0,687.0v10.5M986.4,350.9h-11.0M1433.3,687.0v10.5M986.4,266.8h-11.0M1522.7,687.0v10.5M986.4,182.8h-11.0M1612.1,687.0v10.5M986.4,98.7h-11.0M1701.5,687.0v10.5M986.4,14.7h-11.0" stroke="#000" stroke-width="2.6" fill="none"/>
<path d="M1475.5,618.3L1482.8,633.3L1468.2,633.3Z" fill="#ff0000" stroke="#000" stroke-width="2.3" stroke-linejoin="round"/>
<line x1="1445.7" y1="664.6" x2="1505.3" y2="664.6" stroke="#000" stroke-width="2.8"/>
<line x1="96.0" y1="1518.9" x2="833.3" y2="830.5" stroke="#000" stroke-width="2.6"/>
<path d="M169.0,1444.1L175.8,1458.1L162.2,1458.1ZM112.4,1457.5L119.2,1471.5L105.6,1471.5ZM172.6,1486.9L179.4,1500.9L165.8,1500.9ZM175.0,1459.1L181.8,1473.1L168.2,1473.1ZM103.7,1459.1L110.5,1473.1L96.9,1473.1ZM151.2,1472.7L158.0,1486.7L144.4,1486.7ZM135.3,1473.5L142.1,1487.5L128.5,1487.5ZM108.4,1500.2L115.2,1514.2L101.6,1514.2ZM140.6,1487.3L147.4,1501.3L133.8,1501.3ZM128.4,1487.1L135.2,1501.1L121.6,1501.1ZM105.8,1444.2L112.6,1458.2L99.0,1458.2ZM166.4,1471.9L173.2,1485.9L159.6,1485.9ZM200.7,1487.3L207.5,1501.3L193.9,1501.3ZM98.0,1444.3L104.8,1458.3L91.2,1458.3ZM137.4,1444.8L144.2,1458.8L130.6,1458.8ZM143.3,1430.5L150.1,1444.5L136.5,1444.5ZM189.7,1485.9L196.5,1499.9L182.9,1499.9ZM115.4,1487.1L122.2,1501.1L108.6,1501.1ZM126.8,1472.4L133.6,1486.4L120.0,1486.4ZM107.9,1472.7L114.7,1486.7L101.1,1486.7ZM120.4,1500.1L127.2,1514.1L113.6,1514.1ZM162.3,1486.4L169.1,1500.4L155.5,1500.4ZM133.9,1499.9L140.7,1513.9L127.1,1513.9ZM198.1,1459.2L204.9,1473.2L191.3,1473.2ZM122.3,1445.2L129.1,1459.2L115.5,1459.2ZM141.1,1457.7L147.9,1471.7L134.3,1471.7ZM155.7,1429.4L162.5,1443.4L148.9,1443.4ZM117.7,1430.1L124.5,1444.1L110.9,1444.1ZM100.5,1486.1L107.3,1500.1L93.7,1500.1ZM181.3,1443.5L188.1,1457.5L174.5,1457.5ZM161.6,1458.0L168.4,1472.0L154.8,1472.0ZM178.3,1471.8L185.1,1485.8L171.5,1485.8ZM192.6,1472.8L199.4,1486.8L185.8,1486.8ZM188.0,1459.0L194.8,1473.0L181.2,1473.0ZM147.6,1443.7L154.4,1457.7L140.8,1457.7ZM131.4,1458.9L138.2,1472.9L124.6,1472.9ZM128.3,1430.2L135.1,1444.2L121.5,1444.2ZM105.3,1431.1L112.1,1445.1L98.5,1445.1ZM96.3,1471.9L103.1,1485.9L89.5,1485.9ZM247.2,1002.0L254.0,1016.0L240.4,1016.0ZM271.2,1037.6L278.0,1051.6L264.4,1051.6ZM149.7,1044.3L156.5,1058.3L142.9,1058.3ZM166.4,1055.5L173.2,1069.5L159.6,1069.5ZM206.1,1062.2L212.9,1076.2L199.3,1076.2ZM247.2,1070.0L254.0,1084.0L240.4,1084.0ZM288.0,1062.2L294.8,1076.2L281.2,1076.2ZM157.5,1097.9L164.3,1111.9L150.7,1111.9ZM206.1,1110.1L212.9,1124.1L199.3,1124.1ZM169.8,1120.2L176.6,1134.2L163.0,1134.2ZM174.2,1120.2L181.0,1134.2L167.4,1134.2ZM339.3,1120.2L346.1,1134.2L332.5,1134.2ZM357.6,1120.2L364.4,1134.2L350.8,1134.2ZM105.1,1145.8L111.9,1159.8L98.3,1159.8ZM184.3,1145.8L191.1,1159.8L177.5,1159.8ZM153.7,1155.7L160.5,1169.7L146.9,1169.7ZM262.3,1155.7L269.1,1169.7L255.5,1169.7ZM289.1,1158.4L295.9,1172.4L282.3,1172.4ZM299.1,1158.4L305.9,1172.4L292.3,1172.4ZM241.8,1173.8L248.6,1187.8L235.0,1187.8ZM111.4,1181.8L118.2,1195.8L104.6,1195.8ZM123.1,1184.5L129.9,1198.5L116.3,1198.5ZM147.2,1180.5L154.0,1194.5L140.4,1194.5ZM116.7,1199.2L123.5,1213.2L109.9,1213.2ZM133.2,1201.2L140.0,1215.2L126.4,1215.2ZM164.0,1199.9L170.8,1213.9L157.2,1213.9ZM133.4,1215.9L140.2,1229.9L126.6,1229.9ZM123.1,1224.6L129.9,1238.6L116.3,1238.6ZM113.8,1231.3L120.6,1245.3L107.0,1245.3ZM217.5,1215.9L224.3,1229.9L210.7,1229.9ZM222.6,1234.0L229.4,1248.0L215.8,1248.0ZM262.3,1228.7L269.1,1242.7L255.5,1242.7ZM178.0,1248.1L184.8,1262.1L171.2,1262.1ZM241.8,1248.1L248.6,1262.1L235.0,1262.1ZM222.6,1252.7L229.4,1266.7L215.8,1266.7ZM230.2,1257.4L237.0,1271.4L223.4,1271.4ZM285.3,1252.1L292.1,1266.1L278.5,1266.1ZM121.8,1260.1L128.6,1274.1L115.0,1274.1ZM120.5,1271.5L127.3,1285.5L113.7,1285.5ZM125.1,1280.8L131.9,1294.8L118.3,1294.8ZM246.9,1265.5L253.7,1279.5L240.1,1279.5ZM255.0,1266.8L261.8,1280.8L248.2,1280.8ZM216.2,1272.1L223.0,1286.1L209.4,1286.1ZM227.9,1276.8L234.7,1290.8L221.1,1290.8ZM185.4,1278.2L192.2,1292.2L178.6,1292.2ZM202.1,1278.2L208.9,1292.2L195.3,1292.2ZM205.4,1276.8L212.2,1290.8L198.6,1290.8ZM258.3,1281.5L265.1,1295.5L251.5,1295.5ZM291.8,1275.5L298.6,1289.5L285.0,1289.5ZM297.8,1283.5L304.6,1297.5L291.0,1297.5ZM112.4,1288.2L119.2,1302.2L105.6,1302.2ZM148.6,1288.9L155.4,1302.9L141.8,1302.9ZM184.0,1292.9L190.8,1306.9L177.2,1306.9ZM190.7,1291.6L197.5,1305.6L183.9,1305.6ZM198.8,1292.9L205.6,1306.9L192.0,1306.9ZM202.8,1291.6L209.6,1305.6L196.0,1305.6ZM217.5,1283.5L224.3,1297.5L210.7,1297.5ZM218.8,1292.9L225.6,1306.9L212.0,1306.9ZM224.2,1292.9L231.0,1306.9L217.4,1306.9ZM212.1,1299.6L218.9,1313.6L205.3,1313.6ZM276.4,1296.9L283.2,1310.9L269.6,1310.9ZM280.4,1296.9L287.2,1310.9L273.6,1310.9ZM355.0,1248.1L361.8,1262.1L348.2,1262.1ZM313.7,1261.4L320.5,1275.4L306.9,1275.4ZM351.2,1272.1L358.0,1286.1L344.4,1286.1ZM323.8,1276.8L330.6,1290.8L317.0,1290.8ZM298.3,1282.9L305.1,1296.9L291.5,1296.9ZM307.7,1282.9L314.5,1296.9L300.9,1296.9ZM323.8,1283.5L330.6,1297.5L317.0,1297.5ZM331.8,1282.9L338.6,1296.9L325.0,1296.9ZM337.8,1282.9L344.6,1296.9L331.0,1296.9ZM349.9,1282.9L356.7,1296.9L343.1,1296.9ZM356.6,1282.9L363.4,1296.9L349.8,1296.9ZM359.2,1282.9L366.0,1296.9L352.4,1296.9ZM369.3,1282.9L376.1,1296.9L362.5,1296.9ZM374.6,1282.9L381.4,1296.9L367.8,1296.9ZM385.7,1282.9L392.5,1296.9L378.9,1296.9ZM412.5,1295.6L419.3,1309.6L405.7,1309.6ZM117.8,1320.4L124.6,1334.4L111.0,1334.4ZM151.2,1314.4L158.0,1328.4L144.4,1328.4ZM176.7,1312.4L183.5,1326.4L169.9,1326.4ZM187.0,1321.1L193.8,1335.1L180.2,1335.1ZM168.0,1326.5L174.8,1340.5L161.2,1340.5ZM210.1,1318.4L216.9,1332.4L203.3,1332.4ZM208.1,1325.1L214.9,1339.1L201.3,1339.1ZM213.5,1326.5L220.3,1340.5L206.7,1340.5ZM151.9,1333.1L158.7,1347.1L145.1,1347.1ZM271.0,1325.8L277.8,1339.8L264.2,1339.8ZM287.8,1324.4L294.6,1338.4L281.0,1338.4ZM106.4,1338.5L113.2,1352.5L99.6,1352.5ZM115.8,1346.5L122.6,1360.5L109.0,1360.5ZM121.1,1343.9L127.9,1357.9L114.3,1357.9ZM125.1,1345.9L131.9,1359.9L118.3,1359.9ZM141.2,1347.9L148.0,1361.9L134.4,1361.9ZM143.9,1346.5L150.7,1360.5L137.1,1360.5ZM165.3,1341.2L172.1,1355.2L158.5,1355.2ZM154.6,1349.9L161.4,1363.9L147.8,1363.9ZM184.0,1349.2L190.8,1363.2L177.2,1363.2ZM190.7,1336.5L197.5,1350.5L183.9,1350.5ZM198.8,1333.1L205.6,1347.1L192.0,1347.1ZM202.8,1331.8L209.6,1345.8L196.0,1345.8ZM205.4,1333.1L212.2,1347.1L198.6,1347.1ZM212.1,1334.5L218.9,1348.5L205.3,1348.5ZM220.2,1333.1L227.0,1347.1L213.4,1347.1ZM101.1,1355.2L107.9,1369.2L94.3,1369.2ZM109.1,1355.9L115.9,1369.9L102.3,1369.9ZM117.1,1363.3L123.9,1377.3L110.3,1377.3ZM130.5,1361.3L137.3,1375.3L123.7,1375.3ZM139.9,1359.9L146.7,1373.9L133.1,1373.9ZM145.2,1359.9L152.0,1373.9L138.4,1373.9ZM165.3,1355.9L172.1,1369.9L158.5,1369.9ZM170.7,1351.9L177.5,1365.9L163.9,1365.9ZM199.4,1355.9L206.2,1369.9L192.6,1369.9ZM208.8,1359.9L215.6,1373.9L202.0,1373.9ZM222.8,1353.2L229.6,1367.2L216.0,1367.2ZM226.9,1357.2L233.7,1371.2L220.1,1371.2ZM232.2,1358.6L239.0,1372.6L225.4,1372.6ZM242.9,1357.9L249.7,1371.9L236.1,1371.9ZM254.3,1355.2L261.1,1369.2L247.5,1369.2ZM284.4,1353.2L291.2,1367.2L277.6,1367.2ZM115.8,1366.6L122.6,1380.6L109.0,1380.6ZM131.8,1372.0L138.6,1386.0L125.0,1386.0ZM146.6,1374.6L153.4,1388.6L139.8,1388.6ZM165.3,1370.6L172.1,1384.6L158.5,1384.6ZM178.7,1376.0L185.5,1390.0L171.9,1390.0ZM189.4,1372.0L196.2,1386.0L182.6,1386.0ZM196.1,1373.3L202.9,1387.3L189.3,1387.3ZM202.8,1370.6L209.6,1384.6L196.0,1384.6ZM210.8,1373.3L217.6,1387.3L204.0,1387.3ZM218.8,1370.6L225.6,1384.6L212.0,1384.6ZM225.5,1369.3L232.3,1383.3L218.7,1383.3ZM228.2,1378.7L235.0,1392.7L221.4,1392.7ZM240.2,1380.0L247.0,1394.0L233.4,1394.0ZM254.3,1380.7L261.1,1394.7L247.5,1394.7ZM285.7,1380.0L292.5,1394.0L278.9,1394.0ZM299.1,1380.0L305.9,1394.0L292.3,1394.0ZM102.4,1382.0L109.2,1396.0L95.6,1396.0ZM111.8,1384.0L118.6,1398.0L105.0,1398.0ZM121.1,1382.0L127.9,1396.0L114.3,1396.0ZM126.5,1384.0L133.3,1398.0L119.7,1398.0ZM137.2,1389.4L144.0,1403.4L130.4,1403.4ZM149.2,1391.4L156.0,1405.4L142.4,1405.4ZM159.9,1381.3L166.7,1395.3L153.1,1395.3ZM165.3,1389.4L172.1,1403.4L158.5,1403.4ZM174.7,1384.0L181.5,1398.0L167.9,1398.0ZM181.4,1386.7L188.2,1400.7L174.6,1400.7ZM186.7,1382.7L193.5,1396.7L179.9,1396.7ZM200.1,1392.0L206.9,1406.0L193.3,1406.0ZM206.8,1386.7L213.6,1400.7L200.0,1400.7ZM213.5,1393.4L220.3,1407.4L206.7,1407.4ZM233.6,1392.0L240.4,1406.0L226.8,1406.0ZM95.7,1394.0L102.5,1408.0L88.9,1408.0ZM106.4,1398.7L113.2,1412.7L99.6,1412.7ZM117.1,1397.4L123.9,1411.4L110.3,1411.4ZM125.1,1394.7L131.9,1408.7L118.3,1408.7ZM99.7,1404.1L106.5,1418.1L92.9,1418.1ZM222.8,1401.4L229.6,1415.4L216.0,1415.4ZM257.6,1402.1L264.4,1416.1L250.8,1416.1ZM269.0,1402.7L275.8,1416.7L262.2,1416.7ZM281.7,1402.7L288.5,1416.7L274.9,1416.7ZM285.7,1401.4L292.5,1415.4L278.9,1415.4ZM288.4,1402.7L295.2,1416.7L281.6,1416.7ZM111.8,1414.8L118.6,1428.8L105.0,1428.8ZM127.8,1411.4L134.6,1425.4L121.0,1425.4ZM145.2,1408.1L152.0,1422.1L138.4,1422.1ZM153.3,1404.1L160.1,1418.1L146.5,1418.1ZM169.3,1414.8L176.1,1428.8L162.5,1428.8ZM181.4,1406.8L188.2,1420.8L174.6,1420.8ZM192.1,1405.4L198.9,1419.4L185.3,1419.4ZM250.9,1414.8L257.7,1428.8L244.1,1428.8ZM263.0,1412.1L269.8,1426.1L256.2,1426.1ZM138.5,1425.5L145.3,1439.5L131.7,1439.5ZM151.9,1425.5L158.7,1439.5L145.1,1439.5ZM181.4,1421.5L188.2,1435.5L174.6,1435.5ZM190.7,1422.8L197.5,1436.8L183.9,1436.8ZM222.8,1414.8L229.6,1428.8L216.0,1428.8ZM218.8,1422.8L225.6,1436.8L212.0,1436.8ZM95.7,1431.5L102.5,1445.5L88.9,1445.5ZM117.1,1426.8L123.9,1440.8L110.3,1440.8ZM125.1,1429.5L131.9,1443.5L118.3,1443.5ZM205.4,1426.8L212.2,1440.8L198.6,1440.8ZM249.6,1430.8L256.4,1444.8L242.8,1444.8ZM277.7,1433.5L284.5,1447.5L270.9,1447.5ZM296.4,1426.8L303.2,1440.8L289.6,1440.8ZM289.8,1441.6L296.6,1455.6L283.0,1455.6ZM162.6,1437.5L169.4,1451.5L155.8,1451.5ZM176.0,1434.9L182.8,1448.9L169.2,1448.9ZM200.1,1434.9L206.9,1448.9L193.3,1448.9ZM210.8,1434.9L217.6,1448.9L204.0,1448.9ZM217.5,1437.5L224.3,1451.5L210.7,1451.5ZM224.2,1440.2L231.0,1454.2L217.4,1454.2ZM230.9,1441.6L237.7,1455.6L224.1,1455.6ZM234.9,1441.6L241.7,1455.6L228.1,1455.6ZM261.7,1445.6L268.5,1459.6L254.9,1459.6ZM95.7,1446.9L102.5,1460.9L88.9,1460.9ZM109.1,1442.9L115.9,1456.9L102.3,1456.9ZM119.8,1442.9L126.6,1456.9L113.0,1456.9ZM129.2,1444.2L136.0,1458.2L122.4,1458.2ZM141.2,1442.9L148.0,1456.9L134.4,1456.9ZM149.2,1440.2L156.0,1454.2L142.4,1454.2ZM165.3,1446.9L172.1,1460.9L158.5,1460.9ZM190.7,1448.2L197.5,1462.2L183.9,1462.2ZM209.5,1448.2L216.3,1462.2L202.7,1462.2ZM347.2,1364.6L354.0,1378.6L340.4,1378.6ZM317.1,1372.0L323.9,1386.0L310.3,1386.0ZM302.4,1378.7L309.2,1392.7L295.6,1392.7ZM315.1,1379.3L321.9,1393.3L308.3,1393.3ZM319.8,1378.7L326.6,1392.7L313.0,1392.7ZM338.5,1378.7L345.3,1392.7L331.7,1392.7ZM437.9,1392.0L444.7,1406.0L431.1,1406.0ZM315.1,1402.1L321.9,1416.1L308.3,1416.1ZM321.1,1404.7L327.9,1418.7L314.3,1418.7ZM329.1,1404.7L335.9,1418.7L322.3,1418.7ZM335.1,1404.7L341.9,1418.7L328.3,1418.7ZM343.8,1404.7L350.6,1418.7L337.0,1418.7ZM353.9,1404.7L360.7,1418.7L347.1,1418.7ZM361.9,1404.7L368.7,1418.7L355.1,1418.7ZM367.3,1404.7L374.1,1418.7L360.5,1418.7ZM297.0,1426.8L303.8,1440.8L290.2,1440.8ZM304.4,1434.2L311.2,1448.2L297.6,1448.2ZM316.4,1431.5L323.2,1445.5L309.6,1445.5ZM330.5,1426.8L337.3,1440.8L323.7,1440.8ZM329.1,1434.9L335.9,1448.9L322.3,1448.9ZM352.5,1433.5L359.3,1447.5L345.7,1447.5ZM353.9,1432.2L360.7,1446.2L347.1,1446.2ZM95.7,1431.0L102.5,1445.0L88.9,1445.0ZM95.7,1447.1L102.5,1461.1L88.9,1461.1ZM95.7,1463.1L102.5,1477.1L88.9,1477.1ZM99.7,1477.9L106.5,1491.9L92.9,1491.9ZM117.1,1428.4L123.9,1442.4L110.3,1442.4ZM138.5,1425.7L145.3,1439.7L131.7,1439.7ZM151.9,1428.4L158.7,1442.4L145.1,1442.4ZM181.4,1424.3L188.2,1438.3L174.6,1438.3ZM190.7,1425.0L197.5,1439.0L183.9,1439.0ZM205.4,1427.0L212.2,1441.0L198.6,1441.0ZM220.2,1425.7L227.0,1439.7L213.4,1439.7ZM249.6,1432.4L256.4,1446.4L242.8,1446.4ZM277.7,1433.7L284.5,1447.7L270.9,1447.7ZM296.4,1428.4L303.2,1442.4L289.6,1442.4ZM289.8,1441.7L296.6,1455.7L283.0,1455.7ZM261.0,1445.8L267.8,1459.8L254.2,1459.8ZM111.8,1443.1L118.6,1457.1L105.0,1457.1ZM122.5,1439.1L129.3,1453.1L115.7,1453.1ZM129.2,1436.4L136.0,1450.4L122.4,1450.4ZM141.2,1435.0L148.0,1449.0L134.4,1449.0ZM147.9,1439.1L154.7,1453.1L141.1,1453.1ZM154.6,1431.0L161.4,1445.0L147.8,1445.0ZM162.6,1437.7L169.4,1451.7L155.8,1451.7ZM173.3,1440.4L180.1,1454.4L166.5,1454.4ZM201.4,1435.7L208.2,1449.7L194.6,1449.7ZM213.5,1437.7L220.3,1451.7L206.7,1451.7ZM221.5,1441.7L228.3,1455.7L214.7,1455.7ZM226.9,1440.4L233.7,1454.4L220.1,1454.4ZM234.9,1441.7L241.7,1455.7L228.1,1455.7ZM105.1,1449.8L111.9,1463.8L98.3,1463.8ZM117.1,1451.1L123.9,1465.1L110.3,1465.1ZM126.5,1449.8L133.3,1463.8L119.7,1463.8ZM135.9,1448.4L142.7,1462.4L129.1,1462.4ZM145.2,1451.1L152.0,1465.1L138.4,1465.1ZM154.6,1449.8L161.4,1463.8L147.8,1463.8ZM165.3,1453.8L172.1,1467.8L158.5,1467.8ZM172.0,1452.4L178.8,1466.4L165.2,1466.4ZM178.7,1449.8L185.5,1463.8L171.9,1463.8ZM190.7,1448.4L197.5,1462.4L183.9,1462.4ZM197.4,1452.4L204.2,1466.4L190.6,1466.4ZM209.5,1449.8L216.3,1463.8L202.7,1463.8ZM217.5,1449.8L224.3,1463.8L210.7,1463.8ZM224.2,1449.8L231.0,1463.8L217.4,1463.8ZM111.8,1460.5L118.6,1474.5L105.0,1474.5ZM123.8,1461.8L130.6,1475.8L117.0,1475.8ZM133.2,1463.1L140.0,1477.1L126.4,1477.1ZM142.5,1461.8L149.3,1475.8L135.7,1475.8ZM151.9,1463.1L158.7,1477.1L145.1,1477.1ZM162.6,1463.1L169.4,1477.1L155.8,1477.1ZM178.7,1461.8L185.5,1475.8L171.9,1475.8ZM189.4,1460.5L196.2,1474.5L182.6,1474.5ZM197.4,1463.1L204.2,1477.1L190.6,1477.1ZM214.8,1459.1L221.6,1473.1L208.0,1473.1ZM225.5,1469.2L232.3,1483.2L218.7,1483.2ZM226.9,1472.5L233.7,1486.5L220.1,1486.5ZM284.4,1461.8L291.2,1475.8L277.6,1475.8ZM296.4,1470.5L303.2,1484.5L289.6,1484.5ZM114.4,1469.8L121.2,1483.8L107.6,1483.8ZM125.1,1473.9L131.9,1487.9L118.3,1487.9ZM135.9,1472.5L142.7,1486.5L129.1,1486.5ZM146.6,1473.9L153.4,1487.9L139.8,1487.9ZM157.3,1473.9L164.1,1487.9L150.5,1487.9ZM165.3,1473.9L172.1,1487.9L158.5,1487.9ZM178.7,1476.5L185.5,1490.5L171.9,1490.5ZM186.7,1479.2L193.5,1493.2L179.9,1493.2ZM196.1,1473.9L202.9,1487.9L189.3,1487.9ZM205.4,1477.9L212.2,1491.9L198.6,1491.9ZM213.5,1481.9L220.3,1495.9L206.7,1495.9ZM113.1,1481.9L119.9,1495.9L106.3,1495.9ZM122.5,1481.9L129.3,1495.9L115.7,1495.9ZM131.8,1484.6L138.6,1498.6L125.0,1498.6ZM141.2,1484.6L148.0,1498.6L134.4,1498.6ZM151.9,1481.9L158.7,1495.9L145.1,1495.9ZM166.6,1487.2L173.4,1501.2L159.8,1501.2ZM182.7,1484.6L189.5,1498.6L175.9,1498.6ZM192.1,1483.2L198.9,1497.2L185.3,1497.2ZM209.5,1488.6L216.3,1502.6L202.7,1502.6ZM218.8,1489.9L225.6,1503.9L212.0,1503.9ZM237.6,1488.6L244.4,1502.6L230.8,1502.6ZM249.6,1487.2L256.4,1501.2L242.8,1501.2ZM277.7,1488.6L284.5,1502.6L270.9,1502.6ZM257.6,1493.9L264.4,1507.9L250.8,1507.9ZM272.4,1493.9L279.2,1507.9L265.6,1507.9ZM107.8,1492.6L114.6,1506.6L101.0,1506.6ZM118.5,1492.6L125.3,1506.6L111.7,1506.6ZM127.8,1493.9L134.6,1507.9L121.0,1507.9ZM138.5,1492.6L145.3,1506.6L131.7,1506.6ZM146.6,1492.6L153.4,1506.6L139.8,1506.6ZM161.3,1495.3L168.1,1509.3L154.5,1509.3ZM173.3,1499.3L180.1,1513.3L166.5,1513.3ZM193.4,1495.3L200.2,1509.3L186.6,1509.3ZM205.4,1497.9L212.2,1511.9L198.6,1511.9ZM217.5,1497.9L224.3,1511.9L210.7,1511.9ZM228.2,1493.9L235.0,1507.9L221.4,1507.9ZM242.9,1499.3L249.7,1513.3L236.1,1513.3ZM261.7,1500.6L268.5,1514.6L254.9,1514.6ZM269.7,1497.9L276.5,1511.9L262.9,1511.9ZM107.8,1502.0L114.6,1516.0L101.0,1516.0ZM119.8,1497.9L126.6,1511.9L113.0,1511.9ZM137.2,1499.3L144.0,1513.3L130.4,1513.3ZM147.9,1499.3L154.7,1513.3L141.1,1513.3ZM154.6,1499.3L161.4,1513.3L147.8,1513.3ZM325.5,1452.4L332.3,1466.4L318.7,1466.4ZM363.9,1453.1L370.7,1467.1L357.1,1467.1ZM375.3,1463.1L382.1,1477.1L368.5,1477.1ZM380.4,1473.9L387.2,1487.9L373.6,1487.9ZM297.0,1469.8L303.8,1483.8L290.2,1483.8ZM309.7,1469.8L316.5,1483.8L302.9,1483.8ZM316.4,1477.9L323.2,1491.9L309.6,1491.9ZM311.1,1484.6L317.9,1498.6L304.3,1498.6Z" fill="#ff0000" stroke="#000" stroke-width="2.0" stroke-linejoin="round"/>
<line x1="96.0" y1="1427.1" x2="435.2" y2="1314.3" stroke="#3b6fd6" stroke-width="3.7" stroke-dasharray="0.1 8.2" stroke-linecap="round"/>
<rect x="96.0" y="830.5" width="737.3" height="688.4" fill="none" stroke="#000" stroke-width="2.6"/>
<path d="M96.0,1518.9v9.0M96.0,1518.9h-9.0M169.7,1518.9v9.0M96.0,1450.1h-9.0M243.5,1518.9v9.0M96.0,1381.2h-9.0M317.2,1518.9v9.0M96.0,1312.4h-9.0M390.9,1518.9v9.0M96.0,1243.5h-9.0M464.6,1518.9v9.0M96.0,1174.7h-9.0M538.4,1518.9v9.0M96.0,1105.9h-9.0M612.1,1518.9v9.0M96.0,1037.0h-9.0M685.8,1518.9v9.0M96.0,968.2h-9.0M759.6,1518.9v9.0M96.0,899.3h-9.0M833.3,1518.9v9.0M96.0,830.5h-9.0" stroke="#000" stroke-width="2.6" fill="none"/>
<path d="M445.7,1455.0L452.5,1469.0L438.9,1469.0Z" fill="#ff0000" stroke="#000" stroke-width="2.0" stroke-linejoin="round"/>
<line x1="419.1" y1="1499.5" x2="471.4" y2="1499.5" stroke="#000" stroke-width="2.8"/>
<line x1="977.6" y1="1523.3" x2="1704.2" y2="831.7" stroke="#000" stroke-width="2.6"/>
<path d="M1003.2,1461.0L1010.0,1475.0L996.4,1475.0ZM1024.1,1474.9L1030.9,1488.9L1017.3,1488.9ZM1024.1,1488.9L1030.9,1502.9L1017.3,1502.9ZM1080.9,1502.5L1087.7,1516.5L1074.1,1516.5ZM1068.2,1488.9L1075.0,1502.9L1061.4,1502.9ZM1038.4,1445.6L1045.2,1459.6L1031.6,1459.6ZM1093.8,1446.4L1100.6,1460.4L1087.0,1460.4ZM1085.4,1432.8L1092.2,1446.8L1078.6,1446.8ZM1017.8,1384.5L1024.6,1398.5L1011.0,1398.5ZM1007.9,1418.7L1014.7,1432.7L1001.1,1432.7ZM989.4,1431.4L996.2,1445.4L982.6,1445.4ZM1012.0,1369.4L1018.8,1383.4L1005.2,1383.4ZM1063.9,1418.4L1070.7,1432.4L1057.1,1432.4ZM1020.8,1352.8L1027.6,1366.8L1014.0,1366.8ZM1012.7,1489.3L1019.5,1503.3L1005.9,1503.3ZM1003.3,1323.0L1010.1,1337.0L996.5,1337.0ZM1021.1,1501.9L1027.9,1515.9L1014.3,1515.9ZM1059.0,1475.3L1065.8,1489.3L1052.2,1489.3ZM1028.5,1459.6L1035.3,1473.6L1021.7,1473.6ZM1095.1,1418.8L1101.9,1432.8L1088.3,1432.8ZM1050.2,1418.1L1057.0,1432.1L1043.4,1432.1ZM989.8,1459.7L996.6,1473.7L983.0,1473.7ZM1018.4,1445.6L1025.2,1459.6L1011.6,1459.6ZM1038.0,1459.5L1044.8,1473.5L1031.2,1473.5ZM1018.1,1431.8L1024.9,1445.8L1011.3,1445.8ZM1087.5,1474.9L1094.3,1488.9L1080.7,1488.9ZM995.6,1338.8L1002.4,1352.8L988.8,1352.8ZM1012.8,1338.1L1019.6,1352.1L1006.0,1352.1ZM1018.4,1418.1L1025.2,1432.1L1011.6,1432.1ZM1010.3,1447.1L1017.1,1461.1L1003.5,1461.1ZM1086.4,1487.3L1093.2,1501.3L1079.6,1501.3ZM1047.7,1501.4L1054.5,1515.4L1040.9,1515.4ZM982.3,1445.4L989.1,1459.4L975.5,1459.4ZM1046.8,1473.7L1053.6,1487.7L1040.0,1487.7ZM1037.0,1501.3L1043.8,1515.3L1030.2,1515.3ZM1073.3,1418.6L1080.1,1432.6L1066.5,1432.6ZM1001.2,1431.6L1008.0,1445.6L994.4,1445.6ZM1108.3,1459.3L1115.1,1473.3L1101.5,1473.3ZM1007.2,1474.7L1014.0,1488.7L1000.4,1488.7ZM1098.1,1487.4L1104.9,1501.4L1091.3,1501.4ZM1023.7,1324.9L1030.5,1338.9L1016.9,1338.9ZM990.4,1475.4L997.2,1489.4L983.6,1489.4ZM1080.0,1459.5L1086.8,1473.5L1073.2,1473.5ZM1073.9,1460.8L1080.7,1474.8L1067.1,1474.8ZM990.4,1323.0L997.2,1337.0L983.6,1337.0ZM1005.2,1502.2L1012.0,1516.2L998.4,1516.2ZM1059.7,1431.8L1066.5,1445.8L1052.9,1445.8ZM976.3,1417.6L983.1,1431.6L969.5,1431.6ZM993.8,1353.0L1000.6,1367.0L987.0,1367.0ZM1080.4,1474.9L1087.2,1488.9L1073.6,1488.9ZM1035.6,1354.0L1042.4,1368.0L1028.8,1368.0ZM1066.2,1432.6L1073.0,1446.6L1059.4,1446.6ZM1104.8,1418.4L1111.6,1432.4L1098.0,1432.4ZM1064.6,1503.1L1071.4,1517.1L1057.8,1517.1ZM1104.7,1446.4L1111.5,1460.4L1097.9,1460.4ZM997.8,1368.5L1004.6,1382.5L991.0,1382.5ZM981.9,1474.9L988.7,1488.9L975.1,1488.9ZM1013.0,1460.5L1019.8,1474.5L1006.2,1474.5ZM1045.2,1433.3L1052.0,1447.3L1038.4,1447.3ZM1036.7,1474.1L1043.5,1488.1L1029.9,1488.1ZM1080.5,1447.4L1087.3,1461.4L1073.7,1461.4ZM987.2,1487.9L994.0,1501.9L980.4,1501.9ZM1045.4,1488.9L1052.2,1502.9L1038.6,1502.9ZM998.6,1487.8L1005.4,1501.8L991.8,1501.8ZM996.4,1417.5L1003.2,1431.5L989.6,1431.5ZM1035.1,1418.7L1041.9,1432.7L1028.3,1432.7ZM1111.7,1487.3L1118.5,1501.3L1104.9,1501.3ZM1025.2,1368.3L1032.0,1382.3L1018.4,1382.3ZM1061.9,1447.1L1068.7,1461.1L1055.1,1461.1ZM1005.7,1354.4L1012.5,1368.4L998.9,1368.4ZM1031.7,1339.2L1038.5,1353.2L1024.9,1353.2ZM1006.6,1383.9L1013.4,1397.9L999.8,1397.9ZM988.4,1384.3L995.2,1398.3L981.6,1398.3ZM1057.0,1459.6L1063.8,1473.6L1050.2,1473.6ZM1056.8,1488.3L1063.6,1502.3L1050.0,1502.3ZM985.7,1368.8L992.5,1382.8L978.9,1382.8ZM1099.1,1459.3L1105.9,1473.3L1092.3,1473.3ZM1101.4,1433.4L1108.2,1447.4L1094.6,1447.4ZM1110.2,1433.3L1117.0,1447.3L1103.4,1447.3ZM1106.1,1474.3L1112.9,1488.3L1099.3,1488.3ZM1048.0,1446.6L1054.8,1460.6L1041.2,1460.6ZM1011.0,1398.3L1017.8,1412.3L1004.2,1412.3ZM993.0,1445.6L999.8,1459.6L986.2,1459.6ZM1029.1,1431.5L1035.9,1445.5L1022.3,1445.5ZM1027.9,1130.8L1034.7,1144.8L1021.1,1144.8ZM1115.6,1136.4L1122.4,1150.4L1108.8,1150.4ZM1234.9,1145.3L1241.7,1159.3L1228.1,1159.3ZM1006.3,1149.8L1013.1,1163.8L999.5,1163.8ZM1010.7,1148.7L1017.5,1162.7L1003.9,1162.7ZM996.2,1167.6L1003.0,1181.6L989.4,1181.6ZM999.6,1166.5L1006.4,1180.5L992.8,1180.5ZM1021.9,1166.5L1028.7,1180.5L1015.1,1180.5ZM986.9,1207.8L993.7,1221.8L980.1,1221.8ZM1020.8,1221.1L1027.6,1235.1L1014.0,1235.1ZM1023.0,1227.8L1029.8,1241.8L1016.2,1241.8ZM1170.2,1220.0L1177.0,1234.0L1163.4,1234.0ZM1001.8,1232.3L1008.6,1246.3L995.0,1246.3ZM1031.9,1235.6L1038.7,1249.6L1025.1,1249.6ZM1047.5,1240.1L1054.3,1254.1L1040.7,1254.1ZM1049.8,1240.1L1056.6,1254.1L1043.0,1254.1ZM1068.3,1244.6L1075.1,1258.6L1061.5,1258.6ZM1110.0,1241.2L1116.8,1255.2L1103.2,1255.2ZM1001.8,1250.1L1008.6,1264.1L995.0,1264.1ZM1005.1,1246.8L1011.9,1260.8L998.3,1260.8ZM1013.0,1253.5L1019.8,1267.5L1006.2,1267.5ZM1134.5,1256.8L1141.3,1270.8L1127.7,1270.8ZM988.4,1259.1L995.2,1273.1L981.6,1273.1ZM987.3,1268.0L994.1,1282.0L980.5,1282.0ZM991.8,1276.9L998.6,1290.9L985.0,1290.9ZM1183.6,1265.8L1190.4,1279.8L1176.8,1279.8ZM1181.4,1275.8L1188.2,1289.8L1174.6,1289.8ZM1005.1,1270.2L1011.9,1284.2L998.3,1284.2ZM1004.0,1276.9L1010.8,1290.9L997.2,1290.9ZM1011.8,1276.9L1018.6,1290.9L1005.0,1290.9ZM1020.8,1278.0L1027.6,1292.0L1014.0,1292.0ZM1024.1,1270.2L1030.9,1284.2L1017.3,1284.2ZM1221.5,1274.7L1228.3,1288.7L1214.7,1288.7ZM1064.7,1280.2L1071.5,1294.2L1057.9,1294.2ZM1125.6,1285.8L1132.4,1299.8L1118.8,1299.8ZM1009.6,1288.1L1016.4,1302.1L1002.8,1302.1ZM1031.2,1288.1L1038.0,1302.1L1024.4,1302.1ZM977.3,1291.4L984.1,1305.4L970.5,1305.4ZM1184.7,1292.5L1191.5,1306.5L1177.9,1306.5ZM1000.5,1300.7L1007.3,1314.7L993.7,1314.7ZM1015.2,1305.4L1022.0,1319.4L1008.4,1319.4ZM996.4,1310.8L1003.2,1324.8L989.6,1324.8ZM1006.5,1311.4L1013.3,1325.4L999.7,1325.4ZM993.1,1321.5L999.9,1335.5L986.3,1335.5ZM1004.5,1321.5L1011.3,1335.5L997.7,1335.5ZM1013.2,1320.8L1020.0,1334.8L1006.4,1334.8ZM1026.6,1321.5L1033.4,1335.5L1019.8,1335.5ZM1033.3,1320.1L1040.1,1334.1L1026.5,1334.1ZM992.4,1332.2L999.2,1346.2L985.6,1346.2ZM1005.8,1334.8L1012.6,1348.8L999.0,1348.8ZM1024.6,1333.5L1031.4,1347.5L1017.8,1347.5ZM1045.3,1329.5L1052.1,1343.5L1038.5,1343.5ZM1053.3,1322.8L1060.1,1336.8L1046.5,1336.8ZM1052.0,1333.5L1058.8,1347.5L1045.2,1347.5ZM1058.7,1332.2L1065.5,1346.2L1051.9,1346.2ZM1067.4,1320.1L1074.2,1334.1L1060.6,1334.1ZM1075.4,1330.2L1082.2,1344.2L1068.6,1344.2ZM1090.8,1320.1L1097.6,1334.1L1084.0,1334.1ZM1096.8,1320.8L1103.6,1334.8L1090.0,1334.8ZM1113.6,1320.8L1120.4,1334.8L1106.8,1334.8ZM1119.6,1320.8L1126.4,1334.8L1112.8,1334.8ZM1135.6,1328.8L1142.4,1342.8L1128.8,1342.8ZM1150.4,1320.8L1157.2,1334.8L1143.6,1334.8ZM1167.8,1310.1L1174.6,1324.1L1161.0,1324.1ZM1179.1,1296.0L1185.9,1310.0L1172.3,1310.0ZM1102.2,1340.9L1109.0,1354.9L1095.4,1354.9ZM1143.7,1349.6L1150.5,1363.6L1136.9,1363.6ZM1003.8,1352.2L1010.6,1366.2L997.0,1366.2ZM992.4,1358.9L999.2,1372.9L985.6,1372.9ZM1024.6,1357.6L1031.4,1371.6L1017.8,1371.6ZM1032.6,1350.9L1039.4,1364.9L1025.8,1364.9ZM1053.3,1345.5L1060.1,1359.5L1046.5,1359.5ZM1057.3,1353.6L1064.1,1367.6L1050.5,1367.6ZM1072.1,1352.2L1078.9,1366.2L1065.3,1366.2ZM1042.6,1358.9L1049.4,1372.9L1035.8,1372.9ZM1091.5,1353.6L1098.3,1367.6L1084.7,1367.6ZM1103.5,1354.9L1110.3,1368.9L1096.7,1368.9ZM998.5,1368.3L1005.3,1382.3L991.7,1382.3ZM1009.8,1365.0L1016.6,1379.0L1003.0,1379.0ZM1018.5,1368.3L1025.3,1382.3L1011.7,1382.3ZM1045.3,1368.3L1052.1,1382.3L1038.5,1382.3ZM1058.0,1368.3L1064.8,1382.3L1051.2,1382.3ZM1084.8,1369.0L1091.6,1383.0L1078.0,1383.0ZM1100.2,1373.0L1107.0,1387.0L1093.4,1387.0ZM1122.2,1365.0L1129.0,1379.0L1115.4,1379.0ZM1128.9,1371.6L1135.7,1385.6L1122.1,1385.6ZM1147.7,1369.6L1154.5,1383.6L1140.9,1383.6ZM1155.7,1377.7L1162.5,1391.7L1148.9,1391.7ZM1176.4,1368.3L1183.2,1382.3L1169.6,1382.3ZM985.7,1381.7L992.5,1395.7L978.9,1395.7ZM1001.1,1380.3L1007.9,1394.3L994.3,1394.3ZM1015.9,1381.7L1022.7,1395.7L1009.1,1395.7ZM1023.9,1381.7L1030.7,1395.7L1017.1,1395.7ZM1058.7,1381.7L1065.5,1395.7L1051.9,1395.7ZM1066.7,1388.4L1073.5,1402.4L1059.9,1402.4ZM1078.8,1381.7L1085.6,1395.7L1072.0,1395.7ZM1083.4,1385.7L1090.2,1399.7L1076.6,1399.7ZM1098.8,1380.3L1105.6,1394.3L1092.0,1394.3ZM1161.1,1387.0L1167.9,1401.0L1154.3,1401.0ZM989.1,1396.4L995.9,1410.4L982.3,1410.4ZM997.1,1396.4L1003.9,1410.4L990.3,1410.4ZM1009.2,1392.4L1016.0,1406.4L1002.4,1406.4ZM1021.9,1391.0L1028.7,1405.0L1015.1,1405.0ZM1028.6,1400.4L1035.4,1414.4L1021.8,1414.4ZM1069.4,1395.1L1076.2,1409.1L1062.6,1409.1ZM1100.8,1396.4L1107.6,1410.4L1094.0,1410.4ZM1127.6,1401.8L1134.4,1415.8L1120.8,1415.8ZM1137.6,1404.4L1144.4,1418.4L1130.8,1418.4ZM1170.4,1403.1L1177.2,1417.1L1163.6,1417.1ZM977.0,1411.1L983.8,1425.1L970.2,1425.1ZM987.8,1412.5L994.6,1426.5L981.0,1426.5ZM997.1,1411.1L1003.9,1425.1L990.3,1425.1ZM1005.1,1415.1L1011.9,1429.1L998.3,1429.1ZM1034.6,1413.8L1041.4,1427.8L1027.8,1427.8ZM1053.3,1408.4L1060.1,1422.4L1046.5,1422.4ZM1073.4,1405.8L1080.2,1419.8L1066.6,1419.8ZM1090.8,1405.8L1097.6,1419.8L1084.0,1419.8ZM1098.8,1408.4L1105.6,1422.4L1092.0,1422.4ZM1118.9,1411.1L1125.7,1425.1L1112.1,1425.1ZM1147.7,1413.8L1154.5,1427.8L1140.9,1427.8ZM981.1,1421.8L987.9,1435.8L974.3,1435.8ZM991.8,1417.8L998.6,1431.8L985.0,1431.8ZM1003.8,1420.5L1010.6,1434.5L997.0,1434.5ZM1011.8,1423.2L1018.6,1437.2L1005.0,1437.2ZM1027.9,1417.8L1034.7,1431.8L1021.1,1431.8ZM1039.9,1421.8L1046.7,1435.8L1033.1,1435.8ZM1052.0,1423.2L1058.8,1437.2L1045.2,1437.2ZM1064.0,1423.2L1070.8,1437.2L1057.2,1437.2ZM1072.1,1421.8L1078.9,1435.8L1065.3,1435.8ZM1085.4,1416.5L1092.2,1430.5L1078.6,1430.5ZM1101.5,1423.2L1108.3,1437.2L1094.7,1437.2ZM1109.5,1420.5L1116.3,1434.5L1102.7,1434.5ZM1121.6,1425.8L1128.4,1439.8L1114.8,1439.8ZM1139.0,1427.2L1145.8,1441.2L1132.2,1441.2ZM1143.0,1424.5L1149.8,1438.5L1136.2,1438.5ZM993.1,1429.9L999.9,1443.9L986.3,1443.9ZM1021.2,1429.9L1028.0,1443.9L1014.4,1443.9ZM1031.9,1429.9L1038.7,1443.9L1025.1,1443.9ZM1045.3,1429.9L1052.1,1443.9L1038.5,1443.9ZM1085.4,1429.9L1092.2,1443.9L1078.6,1443.9ZM1108.2,1433.9L1115.0,1447.9L1101.4,1447.9ZM985.1,1440.6L991.9,1454.6L978.3,1454.6ZM1002.5,1437.9L1009.3,1451.9L995.7,1451.9ZM1021.2,1440.6L1028.0,1454.6L1014.4,1454.6ZM1039.9,1439.2L1046.7,1453.2L1033.1,1453.2ZM1056.0,1441.9L1062.8,1455.9L1049.2,1455.9ZM1077.4,1440.6L1084.2,1454.6L1070.6,1454.6ZM1093.5,1441.9L1100.3,1455.9L1086.7,1455.9ZM1124.3,1437.9L1131.1,1451.9L1117.5,1451.9ZM1140.3,1444.6L1147.1,1458.6L1133.5,1458.6ZM1177.8,1437.9L1184.6,1451.9L1171.0,1451.9ZM1185.0,1293.4L1191.8,1307.4L1178.2,1307.4ZM1196.4,1309.4L1203.2,1323.4L1189.6,1323.4ZM1208.5,1309.4L1215.3,1323.4L1201.7,1323.4ZM1197.1,1325.5L1203.9,1339.5L1190.3,1339.5ZM1203.8,1330.8L1210.6,1344.8L1197.0,1344.8ZM1208.2,1350.2L1215.0,1364.2L1201.4,1364.2ZM1231.9,1361.6L1238.7,1375.6L1225.1,1375.6ZM1231.9,1371.0L1238.7,1385.0L1225.1,1385.0ZM1177.7,1368.3L1184.5,1382.3L1170.9,1382.3ZM1191.7,1362.9L1198.5,1376.9L1184.9,1376.9ZM1196.4,1365.6L1203.2,1379.6L1189.6,1379.6ZM1188.4,1373.7L1195.2,1387.7L1181.6,1387.7ZM1201.1,1375.0L1207.9,1389.0L1194.3,1389.0ZM1208.5,1371.0L1215.3,1385.0L1201.7,1385.0ZM1253.7,1371.6L1260.5,1385.6L1246.9,1385.6ZM1294.8,1370.3L1301.6,1384.3L1288.0,1384.3ZM1193.1,1387.7L1199.9,1401.7L1186.3,1401.7ZM1203.8,1387.7L1210.6,1401.7L1197.0,1401.7ZM1213.1,1386.4L1219.9,1400.4L1206.3,1400.4ZM1246.9,1386.4L1253.7,1400.4L1240.1,1400.4ZM1313.8,1387.0L1320.6,1401.0L1307.0,1401.0ZM1231.9,1392.4L1238.7,1406.4L1225.1,1406.4ZM1257.3,1402.4L1264.1,1416.4L1250.5,1416.4ZM1305.5,1403.8L1312.3,1417.8L1298.7,1417.8ZM1194.8,1410.5L1201.6,1424.5L1188.0,1424.5ZM1217.6,1410.5L1224.4,1424.5L1210.8,1424.5ZM1233.2,1411.8L1240.0,1425.8L1226.4,1425.8ZM1241.5,1413.1L1248.3,1427.1L1234.7,1427.1ZM1262.7,1418.5L1269.5,1432.5L1255.9,1432.5ZM1297.5,1417.8L1304.3,1431.8L1290.7,1431.8ZM1190.4,1420.5L1197.2,1434.5L1183.6,1434.5ZM1202.4,1425.8L1209.2,1439.8L1195.6,1439.8ZM1180.4,1437.9L1187.2,1451.9L1173.6,1451.9ZM985.7,1441.7L992.5,1455.7L978.9,1455.7ZM1003.1,1439.0L1009.9,1453.0L996.3,1453.0ZM1021.2,1442.4L1028.0,1456.4L1014.4,1456.4ZM1034.6,1437.0L1041.4,1451.0L1027.8,1451.0ZM1045.3,1434.3L1052.1,1448.3L1038.5,1448.3ZM1056.0,1446.4L1062.8,1460.4L1049.2,1460.4ZM1066.7,1446.4L1073.5,1460.4L1059.9,1460.4ZM1077.4,1441.0L1084.2,1455.0L1070.6,1455.0ZM1088.1,1438.4L1094.9,1452.4L1081.3,1452.4ZM1106.9,1437.0L1113.7,1451.0L1100.1,1451.0ZM1122.9,1439.0L1129.7,1453.0L1116.1,1453.0ZM1179.1,1438.4L1185.9,1452.4L1172.3,1452.4ZM1007.8,1446.4L1014.6,1460.4L1001.0,1460.4ZM1034.6,1453.1L1041.4,1467.1L1027.8,1467.1ZM1100.2,1449.1L1107.0,1463.1L1093.4,1463.1ZM1108.2,1453.1L1115.0,1467.1L1101.4,1467.1ZM1125.6,1449.7L1132.4,1463.7L1118.8,1463.7ZM1139.6,1447.1L1146.4,1461.1L1132.8,1461.1ZM982.4,1457.8L989.2,1471.8L975.6,1471.8ZM994.4,1455.8L1001.2,1469.8L987.6,1469.8ZM1001.8,1459.8L1008.6,1473.8L995.0,1473.8ZM1011.8,1461.1L1018.6,1475.1L1005.0,1475.1ZM1022.5,1454.4L1029.3,1468.4L1015.7,1468.4ZM1026.6,1462.4L1033.4,1476.4L1019.8,1476.4ZM1041.3,1466.5L1048.1,1480.5L1034.5,1480.5ZM1056.0,1461.1L1062.8,1475.1L1049.2,1475.1ZM1062.7,1461.1L1069.5,1475.1L1055.9,1475.1ZM1072.1,1462.4L1078.9,1476.4L1065.3,1476.4ZM1085.4,1459.8L1092.2,1473.8L1078.6,1473.8ZM1093.5,1458.4L1100.3,1472.4L1086.7,1472.4ZM1104.2,1459.8L1111.0,1473.8L1097.4,1473.8ZM1110.9,1461.1L1117.7,1475.1L1104.1,1475.1ZM1128.3,1463.8L1135.1,1477.8L1121.5,1477.8ZM1133.6,1465.1L1140.4,1479.1L1126.8,1479.1ZM1155.0,1461.1L1161.8,1475.1L1148.2,1475.1ZM1166.4,1463.8L1173.2,1477.8L1159.6,1477.8ZM1176.4,1463.8L1183.2,1477.8L1169.6,1477.8ZM1157.7,1471.8L1164.5,1485.8L1150.9,1485.8ZM977.7,1469.1L984.5,1483.1L970.9,1483.1ZM990.4,1475.8L997.2,1489.8L983.6,1489.8ZM1002.5,1477.2L1009.3,1491.2L995.7,1491.2ZM1017.9,1473.1L1024.7,1487.1L1011.1,1487.1ZM1034.6,1477.2L1041.4,1491.2L1027.8,1491.2ZM1046.6,1474.5L1053.4,1488.5L1039.8,1488.5ZM1064.0,1473.1L1070.8,1487.1L1057.2,1487.1ZM1076.1,1474.5L1082.9,1488.5L1069.3,1488.5ZM1089.5,1471.8L1096.3,1485.8L1082.7,1485.8ZM1096.2,1477.2L1103.0,1491.2L1089.4,1491.2ZM1107.5,1475.8L1114.3,1489.8L1100.7,1489.8ZM1130.9,1477.2L1137.7,1491.2L1124.1,1491.2ZM1141.7,1473.1L1148.5,1487.1L1134.9,1487.1ZM979.7,1482.5L986.5,1496.5L972.9,1496.5ZM991.8,1485.2L998.6,1499.2L985.0,1499.2ZM1003.8,1482.5L1010.6,1496.5L997.0,1496.5ZM1014.5,1479.8L1021.3,1493.8L1007.7,1493.8ZM1025.2,1483.9L1032.0,1497.9L1018.4,1497.9ZM1037.3,1482.5L1044.1,1496.5L1030.5,1496.5ZM1048.0,1483.9L1054.8,1497.9L1041.2,1497.9ZM1058.7,1485.2L1065.5,1499.2L1051.9,1499.2ZM1070.7,1483.9L1077.5,1497.9L1063.9,1497.9ZM1080.1,1486.5L1086.9,1500.5L1073.3,1500.5ZM1088.1,1486.5L1094.9,1500.5L1081.3,1500.5ZM1097.5,1483.9L1104.3,1497.9L1090.7,1497.9ZM1112.2,1485.2L1119.0,1499.2L1105.4,1499.2ZM1120.2,1489.2L1127.0,1503.2L1113.4,1503.2ZM1151.0,1487.9L1157.8,1501.9L1144.2,1501.9ZM1163.1,1486.5L1169.9,1500.5L1156.3,1500.5ZM1167.1,1491.9L1173.9,1505.9L1160.3,1505.9ZM983.7,1490.5L990.5,1504.5L976.9,1504.5ZM1001.1,1489.2L1007.9,1503.2L994.3,1503.2ZM1011.8,1493.2L1018.6,1507.2L1005.0,1507.2ZM1029.2,1490.5L1036.0,1504.5L1022.4,1504.5ZM1041.3,1491.9L1048.1,1505.9L1034.5,1505.9ZM1052.0,1494.6L1058.8,1508.6L1045.2,1508.6ZM1064.0,1493.2L1070.8,1507.2L1057.2,1507.2ZM1076.1,1494.6L1082.9,1508.6L1069.3,1508.6ZM1090.8,1491.9L1097.6,1505.9L1084.0,1505.9ZM1105.5,1493.2L1112.3,1507.2L1098.7,1507.2ZM1003.8,1498.6L1010.6,1512.6L997.0,1512.6ZM1018.5,1505.3L1025.3,1519.3L1011.7,1519.3ZM1031.9,1501.3L1038.7,1515.3L1025.1,1515.3ZM1048.0,1501.3L1054.8,1515.3L1041.2,1515.3ZM1082.8,1499.9L1089.6,1513.9L1076.0,1513.9ZM1096.2,1501.3L1103.0,1515.3L1089.4,1515.3ZM1102.8,1499.9L1109.6,1513.9L1096.0,1513.9ZM1133.0,1501.9L1139.8,1515.9L1126.2,1515.9ZM1143.0,1502.6L1149.8,1516.6L1136.2,1516.6ZM1193.1,1453.7L1199.9,1467.7L1186.3,1467.7ZM1177.0,1465.1L1183.8,1479.1L1170.2,1479.1ZM1193.1,1471.8L1199.9,1485.8L1186.3,1485.8ZM1203.1,1466.5L1209.9,1480.5L1196.3,1480.5ZM1207.8,1465.1L1214.6,1479.1L1201.0,1479.1ZM1208.5,1475.8L1215.3,1489.8L1201.7,1489.8ZM1211.1,1481.2L1217.9,1495.2L1204.3,1495.2ZM1215.8,1485.2L1222.6,1499.2L1209.0,1499.2ZM1226.5,1489.2L1233.3,1503.2L1219.7,1503.2ZM1229.2,1471.8L1236.0,1485.8L1222.4,1485.8ZM1234.6,1479.8L1241.4,1493.8L1227.8,1493.8ZM1239.2,1487.9L1246.0,1501.9L1232.4,1501.9ZM1225.2,1499.2L1232.0,1513.2L1218.4,1513.2ZM1243.3,1465.1L1250.1,1479.1L1236.5,1479.1ZM1252.6,1463.1L1259.4,1477.1L1245.8,1477.1ZM1274.7,1473.1L1281.5,1487.1L1267.9,1487.1ZM1289.8,1500.6L1296.6,1514.6L1283.0,1514.6Z" fill="#ff0000" stroke="#000" stroke-width="2.0" stroke-linejoin="round"/>
<line x1="977.6" y1="1411.3" x2="1311.8" y2="1442.0" stroke="#3b6fd6" stroke-width="3.7" stroke-dasharray="0.1 8.2" stroke-linecap="round"/>
<rect x="977.6" y="831.7" width="726.6" height="691.6" fill="none" stroke="#000" stroke-width="2.6"/>
<path d="M977.6,1523.3v9.0M977.6,1523.3h-9.0M1050.3,1523.3v9.0M977.6,1454.1h-9.0M1122.9,1523.3v9.0M977.6,1385.0h-9.0M1195.6,1523.3v9.0M977.6,1315.8h-9.0M1268.2,1523.3v9.0M977.6,1246.7h-9.0M1340.9,1523.3v9.0M977.6,1177.5h-9.0M1413.6,1523.3v9.0M977.6,1108.3h-9.0M1486.2,1523.3v9.0M977.6,1039.2h-9.0M1558.9,1523.3v9.0M977.6,970.0h-9.0M1631.5,1523.3v9.0M977.6,900.9h-9.0M1704.2,1523.3v9.0M977.6,831.7h-9.0" stroke="#000" stroke-width="2.6" fill="none"/>
<path d="M1319.3,1451.0L1326.1,1465.0L1312.5,1465.0Z" fill="#ff0000" stroke="#000" stroke-width="2.0" stroke-linejoin="round"/>
<line x1="1293.5" y1="1497.1" x2="1347.4" y2="1497.1" stroke="#000" stroke-width="2.8"/>
<line x1="125.4" y1="2345.9" x2="834.5" y2="1664.9" stroke="#000" stroke-width="2.6"/>
<path d="M183.4,2294.1L190.7,2309.1L176.1,2309.1ZM184.1,2272.4L191.4,2287.4L176.8,2287.4ZM141.7,2272.7L149.0,2287.7L134.4,2287.7ZM146.8,2274.3L154.1,2289.3L139.5,2289.3ZM136.6,2262.8L143.9,2277.8L129.3,2277.8ZM231.1,2239.1L238.4,2254.1L223.8,2254.1ZM282.9,2273.3L290.2,2288.3L275.6,2288.3ZM192.0,2250.8L199.3,2265.8L184.7,2265.8ZM249.4,2272.1L256.7,2287.1L242.1,2287.1ZM259.8,2249.9L267.1,2264.9L252.5,2264.9ZM164.6,2285.2L171.9,2300.2L157.3,2300.2ZM184.9,2251.1L192.2,2266.1L177.6,2266.1ZM197.6,2284.3L204.9,2299.3L190.3,2299.3ZM150.9,2294.4L158.2,2309.4L143.6,2309.4ZM282.3,2251.1L289.6,2266.1L275.0,2266.1ZM134.5,2283.0L141.8,2298.0L127.2,2298.0ZM249.0,2249.7L256.3,2264.7L241.7,2264.7ZM269.8,2272.4L277.1,2287.4L262.5,2287.4ZM212.2,2272.8L219.5,2287.8L204.9,2287.8ZM234.0,2262.7L241.3,2277.7L226.7,2277.7ZM265.5,2262.3L272.8,2277.3L258.2,2277.3ZM202.9,2271.7L210.2,2286.7L195.6,2286.7ZM208.6,2261.4L215.9,2276.4L201.3,2276.4ZM217.8,2273.2L225.1,2288.2L210.5,2288.2ZM227.4,2250.1L234.7,2265.1L220.1,2265.1ZM205.2,2250.9L212.5,2265.9L197.9,2265.9ZM234.7,2261.1L242.0,2276.1L227.4,2276.1ZM350.2,2261.0L357.5,2276.0L342.9,2276.0ZM199.7,2262.0L207.0,2277.0L192.4,2277.0ZM168.6,2274.0L175.9,2289.0L161.3,2289.0ZM147.8,2251.2L155.1,2266.2L140.5,2266.2ZM198.7,2239.1L206.0,2254.1L191.4,2254.1ZM200.0,2262.9L207.3,2277.9L192.7,2277.9ZM270.9,2250.5L278.2,2265.5L263.6,2265.5ZM212.0,2282.9L219.3,2297.9L204.7,2297.9ZM310.4,2262.0L317.7,2277.0L303.1,2277.0ZM200.9,2283.0L208.2,2298.0L193.6,2298.0ZM210.0,2238.9L217.3,2253.9L202.7,2253.9ZM297.2,2261.7L304.5,2276.7L289.9,2276.7ZM167.9,2261.7L175.2,2276.7L160.6,2276.7ZM221.0,2261.6L228.3,2276.6L213.7,2276.6ZM193.2,2251.4L200.5,2266.4L185.9,2266.4ZM290.1,2272.6L297.4,2287.6L282.8,2287.6ZM277.5,2262.0L284.8,2277.0L270.2,2277.0ZM173.2,2272.0L180.5,2287.0L165.9,2287.0ZM162.3,2272.7L169.6,2287.7L155.0,2287.7ZM130.3,2285.7L137.6,2300.7L123.0,2300.7ZM184.9,2261.4L192.2,2276.4L177.6,2276.4ZM153.8,2297.4L161.1,2312.4L146.5,2312.4ZM256.2,2262.4L263.5,2277.4L248.9,2277.4ZM206.3,2284.2L213.6,2299.2L199.0,2299.2ZM174.9,2261.8L182.2,2276.8L167.6,2276.8ZM215.6,2251.2L222.9,2266.2L208.3,2266.2ZM163.2,2262.8L170.5,2277.8L155.9,2277.8ZM187.5,2285.0L194.8,2300.0L180.2,2300.0ZM202.4,2272.9L209.7,2287.9L195.1,2287.9ZM138.1,2294.8L145.4,2309.8L130.8,2309.8ZM187.6,2261.5L194.9,2276.5L180.3,2276.5ZM150.8,2272.7L158.1,2287.7L143.5,2287.7ZM258.7,2272.4L266.0,2287.4L251.4,2287.4ZM153.5,2305.9L160.8,2320.9L146.2,2320.9ZM148.0,2285.8L155.3,2300.8L140.7,2300.8ZM189.3,2272.8L196.6,2287.8L182.0,2287.8ZM164.9,2297.2L172.2,2312.2L157.6,2312.2ZM131.2,2296.5L138.5,2311.5L123.9,2311.5ZM317.5,2261.9L324.8,2276.9L310.2,2276.9ZM339.5,2261.1L346.8,2276.1L332.2,2276.1ZM218.5,2284.0L225.8,2299.0L211.2,2299.0ZM242.2,2239.5L249.5,2254.5L234.9,2254.5ZM176.8,2273.2L184.1,2288.2L169.5,2288.2ZM245.1,2261.2L252.4,2276.2L237.8,2276.2ZM254.0,2239.7L261.3,2254.7L246.7,2254.7ZM179.7,2239.2L187.0,2254.2L172.4,2254.2ZM206.3,2261.2L213.6,2276.2L199.0,2276.2ZM286.4,2261.2L293.7,2276.2L279.1,2276.2ZM174.9,2295.0L182.2,2310.0L167.6,2310.0ZM316.1,2251.1L323.4,2266.1L308.8,2266.1ZM123.0,2274.4L130.3,2289.4L115.7,2289.4ZM144.6,2261.5L151.9,2276.5L137.3,2276.5ZM218.1,2261.7L225.4,2276.7L210.8,2276.7ZM157.7,2273.1L165.0,2288.1L150.4,2288.1ZM142.2,2282.6L149.5,2297.6L134.9,2297.6ZM144.9,2306.0L152.2,2321.0L137.6,2321.0ZM173.1,2251.2L180.4,2266.2L165.8,2266.2ZM161.7,2251.0L169.0,2266.0L154.4,2266.0ZM132.5,2304.8L139.8,2319.8L125.2,2319.8ZM325.2,2250.4L332.5,2265.4L317.9,2265.4ZM289.7,2251.1L297.0,2266.1L282.4,2266.1ZM176.4,2262.1L183.7,2277.1L169.1,2277.1ZM174.8,2284.2L182.1,2299.2L167.5,2299.2ZM130.4,2272.8L137.7,2287.8L123.1,2287.8ZM173.4,2284.7L180.7,2299.7L166.1,2299.7ZM226.7,2272.6L234.0,2287.6L219.4,2287.6ZM160.2,2295.0L167.5,2310.0L152.9,2310.0ZM245.7,2261.3L253.0,2276.3L238.4,2276.3ZM158.1,2260.7L165.4,2275.7L150.8,2275.7ZM195.7,2271.8L203.0,2286.8L188.4,2286.8ZM218.2,2239.9L225.5,2254.9L210.9,2254.9ZM228.0,2272.3L235.3,2287.3L220.7,2287.3ZM367.3,2261.7L374.6,2276.7L360.0,2276.7ZM303.8,2250.6L311.1,2265.6L296.5,2265.6ZM254.5,2261.1L261.8,2276.1L247.2,2276.1ZM186.1,2282.7L193.4,2297.7L178.8,2297.7ZM238.5,2272.9L245.8,2287.9L231.2,2287.9ZM166.8,2238.8L174.1,2253.8L159.5,2253.8ZM143.7,2297.2L151.0,2312.2L136.4,2312.2ZM236.2,2249.9L243.5,2264.9L228.9,2264.9ZM164.0,2284.3L171.3,2299.3L156.7,2299.3ZM334.0,2261.6L341.3,2276.6L326.7,2276.6ZM152.2,2283.8L159.5,2298.8L144.9,2298.8ZM136.8,2284.9L144.1,2299.9L129.5,2299.9ZM240.1,2273.0L247.4,2288.0L232.8,2288.0ZM190.8,2239.1L198.1,2254.1L183.5,2254.1ZM149.1,2262.1L156.4,2277.1L141.8,2277.1ZM193.3,2157.2L200.6,2172.2L186.0,2172.2ZM206.7,2157.2L214.0,2172.2L199.4,2172.2ZM185.9,2170.6L193.2,2185.6L178.6,2185.6ZM168.5,2170.6L175.8,2185.6L161.2,2185.6ZM155.1,2176.0L162.4,2191.0L147.8,2191.0ZM153.8,2184.0L161.1,2199.0L146.5,2199.0ZM169.9,2185.3L177.2,2200.3L162.6,2200.3ZM145.8,2188.0L153.1,2203.0L138.5,2203.0ZM144.4,2204.7L151.7,2219.7L137.1,2219.7ZM136.4,2220.1L143.7,2235.1L129.1,2235.1ZM262.2,2197.4L269.5,2212.4L254.9,2212.4ZM270.2,2196.0L277.5,2211.0L262.9,2211.0ZM299.0,2205.4L306.3,2220.4L291.7,2220.4ZM306.4,2214.8L313.7,2229.8L299.1,2229.8ZM325.1,2201.4L332.4,2216.4L317.8,2216.4ZM322.4,2216.1L329.7,2231.1L315.1,2231.1ZM302.4,2228.2L309.7,2243.2L295.1,2243.2ZM326.4,2233.5L333.7,2248.5L319.1,2248.5ZM214.0,2216.1L221.3,2231.1L206.7,2231.1ZM224.1,2212.1L231.4,2227.1L216.8,2227.1ZM211.4,2221.5L218.7,2236.5L204.1,2236.5ZM127.0,2249.6L134.3,2264.6L119.7,2264.6ZM131.1,2262.9L138.4,2277.9L123.8,2277.9ZM125.7,2284.4L133.0,2299.4L118.4,2299.4ZM125.7,2295.1L133.0,2310.1L118.4,2310.1ZM129.7,2305.8L137.0,2320.8L122.4,2320.8ZM147.8,2250.9L155.1,2265.9L140.5,2265.9ZM153.8,2238.9L161.1,2253.9L146.5,2253.9ZM164.5,2253.6L171.8,2268.6L157.2,2268.6ZM165.9,2232.2L173.2,2247.2L158.6,2247.2ZM175.2,2228.2L182.5,2243.2L167.9,2243.2ZM179.2,2224.1L186.5,2239.1L171.9,2239.1ZM187.3,2228.2L194.6,2243.2L180.0,2243.2ZM200.7,2232.2L208.0,2247.2L193.4,2247.2ZM208.7,2230.8L216.0,2245.8L201.4,2245.8ZM211.4,2244.2L218.7,2259.2L204.1,2259.2ZM224.7,2236.2L232.0,2251.2L217.4,2251.2ZM231.4,2236.2L238.7,2251.2L224.1,2251.2ZM240.8,2233.5L248.1,2248.5L233.5,2248.5ZM262.2,2228.2L269.5,2243.2L254.9,2243.2ZM256.9,2241.5L264.2,2256.5L249.6,2256.5ZM274.3,2233.5L281.6,2248.5L267.0,2248.5ZM286.3,2229.5L293.6,2244.5L279.0,2244.5ZM267.6,2240.2L274.9,2255.2L260.3,2255.2ZM141.8,2262.9L149.1,2277.9L134.5,2277.9ZM155.1,2262.9L162.4,2277.9L147.8,2277.9ZM172.5,2260.3L179.8,2275.3L165.2,2275.3ZM181.9,2256.3L189.2,2271.3L174.6,2271.3ZM192.6,2253.6L199.9,2268.6L185.3,2268.6ZM203.3,2256.3L210.6,2271.3L196.0,2271.3ZM216.7,2253.6L224.0,2268.6L209.4,2268.6ZM232.8,2252.2L240.1,2267.2L225.5,2267.2ZM246.2,2249.6L253.5,2264.6L238.9,2264.6ZM255.5,2248.2L262.8,2263.2L248.2,2263.2ZM275.6,2248.2L282.9,2263.2L268.3,2263.2ZM289.0,2248.2L296.3,2263.2L281.7,2263.2ZM306.4,2246.9L313.7,2261.9L299.1,2261.9ZM317.1,2244.2L324.4,2259.2L309.8,2259.2ZM326.4,2244.2L333.7,2259.2L319.1,2259.2ZM140.4,2275.0L147.7,2290.0L133.1,2290.0ZM151.1,2273.7L158.4,2288.7L143.8,2288.7ZM161.8,2275.0L169.1,2290.0L154.5,2290.0ZM175.2,2271.0L182.5,2286.0L167.9,2286.0ZM189.9,2273.7L197.2,2288.7L182.6,2288.7ZM200.7,2269.6L208.0,2284.6L193.4,2284.6ZM212.7,2271.0L220.0,2286.0L205.4,2286.0ZM224.7,2267.0L232.0,2282.0L217.4,2282.0ZM239.5,2262.9L246.8,2277.9L232.2,2277.9ZM251.5,2262.9L258.8,2277.9L244.2,2277.9ZM263.6,2260.3L270.9,2275.3L256.3,2275.3ZM279.6,2260.3L286.9,2275.3L272.3,2275.3ZM293.0,2260.3L300.3,2275.3L285.7,2275.3ZM305.0,2260.3L312.3,2275.3L297.7,2275.3ZM319.8,2257.6L327.1,2272.6L312.5,2272.6ZM327.8,2256.3L335.1,2271.3L320.5,2271.3ZM136.4,2287.0L143.7,2302.0L129.1,2302.0ZM148.5,2284.4L155.8,2299.4L141.2,2299.4ZM159.2,2284.4L166.5,2299.4L151.9,2299.4ZM171.2,2283.0L178.5,2298.0L163.9,2298.0ZM185.9,2283.0L193.2,2298.0L178.6,2298.0ZM200.7,2280.3L208.0,2295.3L193.4,2295.3ZM216.7,2279.0L224.0,2294.0L209.4,2294.0ZM232.8,2277.7L240.1,2292.7L225.5,2292.7ZM244.8,2279.0L252.1,2294.0L237.5,2294.0ZM260.9,2279.0L268.2,2294.0L253.6,2294.0ZM274.3,2277.7L281.6,2292.7L267.0,2292.7ZM280.9,2277.7L288.2,2292.7L273.6,2292.7ZM301.0,2272.3L308.3,2287.3L293.7,2287.3ZM310.4,2265.6L317.7,2280.6L303.1,2280.6ZM137.8,2300.4L145.1,2315.4L130.5,2315.4ZM148.5,2296.4L155.8,2311.4L141.2,2311.4ZM157.8,2297.7L165.1,2312.7L150.5,2312.7ZM168.5,2293.7L175.8,2308.7L161.2,2308.7ZM179.2,2295.1L186.5,2310.1L171.9,2310.1ZM189.9,2292.4L197.2,2307.4L182.6,2307.4ZM208.7,2288.4L216.0,2303.4L201.4,2303.4ZM222.1,2284.4L229.4,2299.4L214.8,2299.4ZM131.1,2307.1L138.4,2322.1L123.8,2322.1ZM141.8,2305.8L149.1,2320.8L134.5,2320.8ZM155.1,2307.1L162.4,2322.1L147.8,2322.1ZM167.2,2303.1L174.5,2318.1L159.9,2318.1ZM179.2,2300.4L186.5,2315.4L171.9,2315.4ZM329.1,2280.3L336.4,2295.3L321.8,2295.3ZM467.1,2188.7L474.4,2203.7L459.8,2203.7ZM355.8,2197.4L363.1,2212.4L348.5,2212.4ZM355.8,2206.7L363.1,2221.7L348.5,2221.7ZM371.8,2205.4L379.1,2220.4L364.5,2220.4ZM343.7,2214.8L351.0,2229.8L336.4,2229.8ZM326.3,2202.7L333.6,2217.7L319.0,2217.7ZM329.0,2213.4L336.3,2228.4L321.7,2228.4ZM436.1,2202.7L443.4,2217.7L428.8,2217.7ZM426.7,2217.4L434.0,2232.4L419.4,2232.4ZM436.1,2216.1L443.4,2231.1L428.8,2231.1ZM461.1,2216.1L468.4,2231.1L453.8,2231.1ZM385.2,2218.8L392.5,2233.8L377.9,2233.8ZM390.6,2221.5L397.9,2236.5L383.3,2236.5ZM381.9,2229.5L389.2,2244.5L374.6,2244.5ZM339.7,2230.8L347.0,2245.8L332.4,2245.8ZM355.8,2234.8L363.1,2249.8L348.5,2249.8ZM365.1,2230.8L372.4,2245.8L357.8,2245.8ZM351.1,2240.2L358.4,2255.2L343.8,2255.2ZM327.7,2236.2L335.0,2251.2L320.4,2251.2ZM335.7,2238.9L343.0,2253.9L328.4,2253.9ZM433.4,2226.8L440.7,2241.8L426.1,2241.8ZM446.8,2233.5L454.1,2248.5L439.5,2248.5ZM397.3,2241.5L404.6,2256.5L390.0,2256.5ZM405.3,2241.5L412.6,2256.5L398.0,2256.5ZM412.0,2241.5L419.3,2256.5L404.7,2256.5ZM417.3,2242.9L424.6,2257.9L410.0,2257.9ZM429.4,2242.2L436.7,2257.2L422.1,2257.2ZM437.4,2241.5L444.7,2256.5L430.1,2256.5ZM442.8,2241.5L450.1,2256.5L435.5,2256.5ZM453.5,2242.2L460.8,2257.2L446.2,2257.2ZM460.2,2241.5L467.5,2256.5L452.9,2256.5ZM472.2,2242.2L479.5,2257.2L464.9,2257.2ZM329.0,2254.9L336.3,2269.9L321.7,2269.9ZM342.4,2254.9L349.7,2269.9L335.1,2269.9ZM353.1,2254.9L360.4,2269.9L345.8,2269.9ZM362.5,2256.3L369.8,2271.3L355.2,2271.3ZM375.9,2252.2L383.2,2267.2L368.6,2267.2ZM386.6,2252.2L393.9,2267.2L379.3,2267.2ZM398.6,2252.2L405.9,2267.2L391.3,2267.2ZM406.6,2252.2L413.9,2267.2L399.3,2267.2ZM418.7,2252.2L426.0,2267.2L411.4,2267.2ZM434.7,2252.2L442.0,2267.2L427.4,2267.2ZM442.8,2252.2L450.1,2267.2L435.5,2267.2ZM350.4,2264.3L357.7,2279.3L343.1,2279.3ZM369.2,2264.3L376.5,2279.3L361.9,2279.3ZM387.9,2264.3L395.2,2279.3L380.6,2279.3ZM398.6,2264.3L405.9,2279.3L391.3,2279.3ZM408.0,2264.3L415.3,2279.3L400.7,2279.3ZM418.7,2264.3L426.0,2279.3L411.4,2279.3ZM425.4,2264.3L432.7,2279.3L418.1,2279.3ZM436.1,2264.3L443.4,2279.3L428.8,2279.3ZM449.5,2264.3L456.8,2279.3L442.2,2279.3ZM331.7,2279.0L339.0,2294.0L324.4,2294.0ZM343.7,2279.0L351.0,2294.0L336.4,2294.0ZM373.2,2279.0L380.5,2294.0L365.9,2294.0ZM393.3,2279.0L400.6,2294.0L386.0,2294.0ZM406.6,2279.0L413.9,2294.0L399.3,2294.0ZM433.4,2279.0L440.7,2294.0L426.1,2294.0Z" fill="#ff0000" stroke="#000" stroke-width="2.3" stroke-linejoin="round"/>
<line x1="125.4" y1="2282.1" x2="469.3" y2="2237.5" stroke="#3b6fd6" stroke-width="3.7" stroke-dasharray="0.1 8.2" stroke-linecap="round"/>
<rect x="125.4" y="1664.9" width="709.1" height="681.0" fill="none" stroke="#000" stroke-width="2.6"/>
<path d="M125.4,2345.9v10.5M125.4,2345.9h-11.0M214.0,2345.9v10.5M125.4,2260.8h-11.0M302.7,2345.9v10.5M125.4,2175.7h-11.0M391.3,2345.9v10.5M125.4,2090.5h-11.0M480.0,2345.9v10.5M125.4,2005.4h-11.0M568.6,2345.9v10.5M125.4,1920.3h-11.0M657.2,2345.9v10.5M125.4,1835.2h-11.0M745.9,2345.9v10.5M125.4,1750.0h-11.0M834.5,2345.9v10.5M125.4,1664.9h-11.0" stroke="#000" stroke-width="2.6" fill="none"/>
<path d="M540.8,2266.2L548.1,2281.2L533.5,2281.2Z" fill="#ff0000" stroke="#000" stroke-width="2.3" stroke-linejoin="round"/>
<line x1="510.1" y1="2312.8" x2="570.6" y2="2312.8" stroke="#000" stroke-width="2.8"/>
<line x1="997.2" y1="2342.9" x2="1706.4" y2="1665.0" stroke="#000" stroke-width="2.6"/>
<path d="M1025.3,2185.2L1032.6,2200.2L1018.0,2200.2ZM1054.8,2198.2L1062.1,2213.2L1047.5,2213.2ZM1130.1,2245.6L1137.4,2260.6L1122.8,2260.6ZM1077.0,2209.7L1084.3,2224.7L1069.7,2224.7ZM1116.6,2268.9L1123.9,2283.9L1109.3,2283.9ZM1041.0,2233.8L1048.3,2248.8L1033.7,2248.8ZM1070.9,2222.4L1078.2,2237.4L1063.6,2237.4ZM1044.2,2292.8L1051.5,2307.8L1036.9,2307.8ZM1161.2,2246.6L1168.5,2261.6L1153.9,2261.6ZM1068.5,2269.8L1075.8,2284.8L1061.2,2284.8ZM1036.8,2161.9L1044.1,2176.9L1029.5,2176.9ZM1143.0,2221.9L1150.3,2236.9L1135.7,2236.9ZM1046.0,2245.3L1053.3,2260.3L1038.7,2260.3ZM1013.5,2162.5L1020.8,2177.5L1006.2,2177.5ZM1141.9,2197.6L1149.2,2212.6L1134.6,2212.6ZM1013.8,2233.2L1021.1,2248.2L1006.5,2248.2ZM1034.2,2209.8L1041.5,2224.8L1026.9,2224.8ZM1004.7,2198.4L1012.0,2213.4L997.4,2213.4ZM1159.9,2186.3L1167.2,2201.3L1152.6,2201.3ZM1110.1,2209.4L1117.4,2224.4L1102.8,2224.4ZM1064.8,2173.3L1072.1,2188.3L1057.5,2188.3ZM1155.7,2232.9L1163.0,2247.9L1148.4,2247.9ZM1066.0,2245.8L1073.3,2260.8L1058.7,2260.8ZM1028.5,2161.2L1035.8,2176.2L1021.2,2176.2ZM996.9,2198.4L1004.2,2213.4L989.6,2213.4ZM1103.4,2221.1L1110.7,2236.1L1096.1,2236.1ZM1043.7,2269.2L1051.0,2284.2L1036.4,2284.2ZM1094.6,2245.2L1101.9,2260.2L1087.3,2260.2ZM1010.7,2245.5L1018.0,2260.5L1003.4,2260.5ZM1003.8,2294.3L1011.1,2309.3L996.5,2309.3ZM1111.8,2258.2L1119.1,2273.2L1104.5,2273.2ZM1026.7,2282.0L1034.0,2297.0L1019.4,2297.0ZM1186.0,2222.3L1193.3,2237.3L1178.7,2237.3ZM1078.8,2221.0L1086.1,2236.0L1071.5,2236.0ZM1018.1,2222.6L1025.4,2237.6L1010.8,2237.6ZM1043.2,2173.7L1050.5,2188.7L1035.9,2188.7ZM1058.3,2246.3L1065.6,2261.3L1051.0,2261.3ZM1028.1,2246.5L1035.4,2261.5L1020.8,2261.5ZM1085.5,2210.0L1092.8,2225.0L1078.2,2225.0ZM1144.4,2233.0L1151.7,2248.0L1137.1,2248.0ZM1078.0,2269.4L1085.3,2284.4L1070.7,2284.4ZM1113.4,2245.3L1120.7,2260.3L1106.1,2260.3ZM1011.8,2280.7L1019.1,2295.7L1004.5,2295.7ZM1132.2,2185.4L1139.5,2200.4L1124.9,2200.4ZM1060.3,2257.0L1067.6,2272.0L1053.0,2272.0ZM1128.2,2221.4L1135.5,2236.4L1120.9,2236.4ZM1070.1,2197.9L1077.4,2212.9L1062.8,2212.9ZM1011.5,2185.8L1018.8,2200.8L1004.2,2200.8ZM1049.4,2210.5L1056.7,2225.5L1042.1,2225.5ZM1193.2,2186.2L1200.5,2201.2L1185.9,2201.2ZM1036.3,2281.5L1043.6,2296.5L1029.0,2296.5ZM1082.7,2245.6L1090.0,2260.6L1075.4,2260.6ZM1020.1,2174.5L1027.4,2189.5L1012.8,2189.5ZM1058.3,2186.4L1065.6,2201.4L1051.0,2201.4ZM1091.1,2198.1L1098.4,2213.1L1083.8,2213.1ZM1144.5,2209.5L1151.8,2224.5L1137.2,2224.5ZM1056.8,2222.3L1064.1,2237.3L1049.5,2237.3ZM1198.1,2198.3L1205.4,2213.3L1190.8,2213.3ZM1011.3,2209.5L1018.6,2224.5L1004.0,2224.5ZM1046.1,2258.0L1053.4,2273.0L1038.8,2273.0ZM1032.0,2197.6L1039.3,2212.6L1024.7,2212.6ZM1021.4,2293.2L1028.7,2308.2L1014.1,2308.2ZM1048.8,2232.9L1056.1,2247.9L1041.5,2247.9ZM1020.3,2245.2L1027.6,2260.2L1013.0,2260.2ZM1180.3,2233.6L1187.6,2248.6L1173.0,2248.6ZM998.3,2256.9L1005.6,2271.9L991.0,2271.9ZM1052.9,2172.9L1060.2,2187.9L1045.6,2187.9ZM998.2,2245.8L1005.5,2260.8L990.9,2260.8ZM1005.6,2269.9L1012.9,2284.9L998.3,2284.9ZM1172.3,2233.8L1179.6,2248.8L1165.0,2248.8ZM1105.9,2269.3L1113.2,2284.3L1098.6,2284.3ZM1023.6,2257.1L1030.9,2272.1L1016.3,2272.1ZM1050.6,2282.0L1057.9,2297.0L1043.3,2297.0ZM1107.4,2186.5L1114.7,2201.5L1100.1,2201.5ZM1176.8,2220.7L1184.1,2235.7L1169.5,2235.7ZM1133.6,2208.9L1140.9,2223.9L1126.3,2223.9ZM1126.1,2198.2L1133.4,2213.2L1118.8,2213.2ZM1035.9,2257.1L1043.2,2272.1L1028.6,2272.1ZM1169.5,2186.1L1176.8,2201.1L1162.2,2201.1ZM1141.5,2245.2L1148.8,2260.2L1134.2,2260.2ZM1078.5,2197.6L1085.8,2212.6L1071.2,2212.6ZM1031.5,2173.2L1038.8,2188.2L1024.2,2188.2ZM1008.5,2172.9L1015.8,2187.9L1001.2,2187.9ZM1149.1,2245.4L1156.4,2260.4L1141.8,2260.4ZM1135.0,2257.4L1142.3,2272.4L1127.7,2272.4ZM1003.8,2210.5L1011.1,2225.5L996.5,2225.5ZM1003.9,2160.8L1011.2,2175.8L996.6,2175.8ZM1101.9,2197.4L1109.2,2212.4L1094.6,2212.4ZM1040.9,2185.3L1048.2,2200.3L1033.6,2200.3ZM1183.2,2186.1L1190.5,2201.1L1175.9,2201.1ZM1057.4,2269.4L1064.7,2284.4L1050.1,2284.4ZM1157.9,2209.8L1165.2,2224.8L1150.6,2224.8ZM1165.5,2221.3L1172.8,2236.3L1158.2,2236.3ZM1099.1,2184.9L1106.4,2199.9L1091.8,2199.9ZM1119.0,2257.4L1126.3,2272.4L1111.7,2272.4ZM1070.6,2232.9L1077.9,2247.9L1063.3,2247.9ZM1123.1,2185.0L1130.4,2200.0L1115.8,2200.0ZM1096.6,2209.4L1103.9,2224.4L1089.3,2224.4ZM1089.9,2221.7L1097.2,2236.7L1082.6,2236.7ZM1004.0,2280.9L1011.3,2295.9L996.7,2295.9ZM999.2,2233.6L1006.5,2248.6L991.9,2248.6ZM1162.0,2197.0L1169.3,2212.0L1154.7,2212.0ZM1074.9,2256.9L1082.2,2271.9L1067.6,2271.9ZM1113.1,2221.9L1120.4,2236.9L1105.8,2236.9ZM1148.1,2221.5L1155.4,2236.5L1140.8,2236.5ZM1084.6,2185.5L1091.9,2200.5L1077.3,2200.5ZM1083.8,2258.3L1091.1,2273.3L1076.5,2273.3ZM1015.8,2257.4L1023.1,2272.4L1008.5,2272.4ZM1115.8,2197.4L1123.1,2212.4L1108.5,2212.4ZM1111.6,2232.8L1118.9,2247.8L1104.3,2247.8ZM1059.6,2282.3L1066.9,2297.3L1052.3,2297.3ZM1026.5,2233.7L1033.8,2248.7L1019.2,2248.7ZM1028.1,2294.3L1035.4,2309.3L1020.8,2309.3ZM1124.6,2210.0L1131.9,2225.0L1117.3,2225.0ZM1088.4,2269.0L1095.7,2284.0L1081.1,2284.0ZM1033.8,2221.7L1041.1,2236.7L1026.5,2236.7ZM995.6,2150.0L1002.9,2165.0L988.3,2165.0ZM1094.7,2257.5L1102.0,2272.5L1087.4,2272.5ZM1148.7,2257.1L1156.0,2272.1L1141.4,2272.1ZM1015.8,2198.2L1023.1,2213.2L1008.5,2213.2ZM1181.3,2209.5L1188.6,2224.5L1174.0,2224.5ZM1058.9,2234.1L1066.2,2249.1L1051.6,2249.1ZM1194.3,2210.6L1201.6,2225.6L1187.0,2225.6ZM1117.9,2234.2L1125.2,2249.2L1110.6,2249.2ZM1083.0,2233.7L1090.3,2248.7L1075.7,2248.7ZM1028.7,2269.7L1036.0,2284.7L1021.4,2284.7ZM1073.0,2184.8L1080.3,2199.8L1065.7,2199.8ZM1200.0,2222.0L1207.3,2237.0L1192.7,2237.0ZM1063.4,2209.7L1070.7,2224.7L1056.1,2224.7ZM1146.7,2185.9L1154.0,2200.9L1139.4,2200.9ZM1102.6,2246.1L1109.9,2261.1L1095.3,2261.1ZM1099.7,2233.9L1107.0,2248.9L1092.4,2248.9ZM1132.1,2234.1L1139.4,2249.1L1124.8,2249.1ZM1176.0,2197.8L1183.3,2212.8L1168.7,2212.8ZM1051.4,2185.0L1058.7,2200.0L1044.1,2200.0ZM1009.7,2221.0L1017.0,2236.0L1002.4,2236.0ZM1072.3,2281.9L1079.6,2296.9L1065.0,2296.9ZM1172.1,2210.5L1179.4,2225.5L1164.8,2225.5ZM1151.0,2197.0L1158.3,2212.0L1143.7,2212.0ZM1184.4,2198.5L1191.7,2213.5L1177.1,2213.5ZM1040.6,2222.4L1047.9,2237.4L1033.3,2237.4ZM1000.3,2186.3L1007.6,2201.3L993.0,2201.3ZM1028.4,2208.7L1035.7,2223.7L1021.1,2223.7ZM1017.3,2270.4L1024.6,2285.4L1010.0,2285.4ZM1046.7,2197.8L1054.0,2212.8L1039.4,2212.8ZM1009.1,2087.1L1016.4,2102.1L1001.8,2102.1ZM1157.9,2073.7L1165.2,2088.7L1150.6,2088.7ZM1150.1,2086.0L1157.4,2101.0L1142.8,2101.0ZM1338.5,2065.9L1345.8,2080.9L1331.2,2080.9ZM1041.4,2116.1L1048.7,2131.1L1034.1,2131.1ZM1122.2,2110.5L1129.5,2125.5L1114.9,2125.5ZM1306.2,2093.8L1313.5,2108.8L1298.9,2108.8ZM1307.3,2103.8L1314.6,2118.8L1300.0,2118.8ZM1333.0,2106.1L1340.3,2121.1L1325.7,2121.1ZM1307.8,2126.1L1315.1,2141.1L1300.5,2141.1ZM1007.3,2128.4L1014.6,2143.4L1000.0,2143.4ZM1015.1,2136.2L1022.4,2151.2L1007.8,2151.2ZM997.3,2145.1L1004.6,2160.1L990.0,2160.1ZM999.5,2158.5L1006.8,2173.5L992.2,2173.5ZM1009.5,2156.3L1016.8,2171.3L1002.2,2171.3ZM1042.5,2144.0L1049.8,2159.0L1035.2,2159.0ZM1060.4,2140.6L1067.7,2155.6L1053.1,2155.6ZM1047.5,2151.8L1054.8,2166.8L1040.2,2166.8ZM1049.7,2162.9L1057.0,2177.9L1042.4,2177.9ZM1080.9,2138.4L1088.2,2153.4L1073.6,2153.4ZM1086.5,2142.9L1093.8,2157.9L1079.2,2157.9ZM1094.3,2146.2L1101.6,2161.2L1087.0,2161.2ZM1102.1,2148.4L1109.4,2163.4L1094.8,2163.4ZM1111.7,2152.9L1119.0,2167.9L1104.4,2167.9ZM1136.7,2145.1L1144.0,2160.1L1129.4,2160.1ZM1148.9,2151.8L1156.2,2166.8L1141.6,2166.8ZM1171.2,2151.8L1178.5,2166.8L1163.9,2166.8ZM1134.4,2164.1L1141.7,2179.1L1127.1,2179.1ZM1195.8,2151.8L1203.1,2166.8L1188.5,2166.8ZM1204.7,2154.0L1212.0,2169.0L1197.4,2169.0ZM1214.7,2155.1L1222.0,2170.1L1207.4,2170.1ZM1227.0,2147.3L1234.3,2162.3L1219.7,2162.3ZM1227.0,2159.6L1234.3,2174.6L1219.7,2174.6ZM1190.2,2159.6L1197.5,2174.6L1182.9,2174.6ZM1250.4,2156.3L1257.7,2171.3L1243.1,2171.3ZM1258.2,2156.3L1265.5,2171.3L1250.9,2171.3ZM1270.5,2156.3L1277.8,2171.3L1263.2,2171.3ZM1278.3,2156.3L1285.6,2171.3L1271.0,2171.3ZM1287.2,2156.3L1294.5,2171.3L1279.9,2171.3ZM1301.7,2156.3L1309.0,2171.3L1294.4,2171.3ZM1310.7,2156.3L1318.0,2171.3L1303.4,2171.3ZM1325.1,2156.3L1332.4,2171.3L1317.8,2171.3ZM1333.0,2156.3L1340.3,2171.3L1325.7,2171.3ZM1341.9,2156.3L1349.2,2171.3L1334.6,2171.3ZM1018.5,2160.7L1025.8,2175.7L1011.2,2175.7ZM1030.7,2160.7L1038.0,2175.7L1023.4,2175.7ZM1027.4,2168.5L1034.7,2183.5L1020.1,2183.5ZM1016.2,2176.3L1023.5,2191.3L1008.9,2191.3ZM997.3,2183.0L1004.6,2198.0L990.0,2198.0ZM993.9,2174.1L1001.2,2189.1L986.6,2189.1ZM1004.0,2171.9L1011.3,2186.9L996.7,2186.9ZM1034.1,2183.0L1041.4,2198.0L1026.8,2198.0ZM1054.1,2187.5L1061.4,2202.5L1046.8,2202.5ZM1063.1,2171.9L1070.4,2186.9L1055.8,2186.9ZM1080.9,2176.3L1088.2,2191.3L1073.6,2191.3ZM1094.3,2183.0L1101.6,2198.0L1087.0,2198.0ZM1112.1,2180.8L1119.4,2195.8L1104.8,2195.8ZM1127.8,2183.0L1135.1,2198.0L1120.5,2198.0ZM1154.5,2178.6L1161.8,2193.6L1147.2,2193.6ZM1172.4,2180.8L1179.7,2195.8L1165.1,2195.8ZM1188.0,2187.5L1195.3,2202.5L1180.7,2202.5ZM1242.6,2173.0L1249.9,2188.0L1235.3,2188.0ZM1261.6,2171.9L1268.9,2186.9L1254.3,2186.9ZM1299.5,2171.9L1306.8,2186.9L1292.2,2186.9ZM1217.0,2186.4L1224.3,2201.4L1209.7,2201.4ZM1225.9,2185.3L1233.2,2200.3L1218.6,2200.3ZM1237.0,2196.4L1244.3,2211.4L1229.7,2211.4ZM1248.2,2185.3L1255.5,2200.3L1240.9,2200.3ZM1271.6,2187.5L1278.9,2202.5L1264.3,2202.5ZM1283.9,2187.5L1291.2,2202.5L1276.6,2202.5ZM1309.5,2185.3L1316.8,2200.3L1302.2,2200.3ZM1315.1,2187.5L1322.4,2202.5L1307.8,2202.5ZM1002.8,2196.4L1010.1,2211.4L995.5,2211.4ZM1020.7,2194.2L1028.0,2209.2L1013.4,2209.2ZM1045.2,2198.6L1052.5,2213.6L1037.9,2213.6ZM1069.8,2196.4L1077.1,2211.4L1062.5,2211.4ZM1086.5,2194.2L1093.8,2209.2L1079.2,2209.2ZM1109.9,2198.6L1117.2,2213.6L1102.6,2213.6ZM1127.8,2198.6L1135.1,2213.6L1120.5,2213.6ZM1143.4,2198.6L1150.7,2213.6L1136.1,2213.6ZM1161.2,2196.4L1168.5,2211.4L1153.9,2211.4ZM1174.6,2196.4L1181.9,2211.4L1167.3,2211.4ZM1194.7,2198.6L1202.0,2213.6L1187.4,2213.6ZM1208.0,2198.6L1215.3,2213.6L1200.7,2213.6ZM1010.7,2205.3L1018.0,2220.3L1003.4,2220.3ZM1043.0,2205.3L1050.3,2220.3L1035.7,2220.3ZM1087.6,2207.6L1094.9,2222.6L1080.3,2222.6ZM1105.4,2205.3L1112.7,2220.3L1098.1,2220.3ZM1225.9,2203.1L1233.2,2218.1L1218.6,2218.1ZM1271.6,2203.1L1278.9,2218.1L1264.3,2218.1ZM998.4,2230.0L1005.7,2245.0L991.1,2245.0ZM1009.1,2252.7L1016.4,2267.7L1001.8,2267.7ZM1001.1,2263.4L1008.4,2278.4L993.8,2278.4ZM1015.8,2224.6L1023.1,2239.6L1008.5,2239.6ZM1030.5,2224.6L1037.8,2239.6L1023.2,2239.6ZM1047.9,2228.6L1055.2,2243.6L1040.6,2243.6ZM1055.9,2216.6L1063.2,2231.6L1048.6,2231.6ZM1073.3,2213.9L1080.6,2228.9L1066.0,2228.9ZM1078.7,2234.0L1086.0,2249.0L1071.4,2249.0ZM1089.4,2226.0L1096.7,2241.0L1082.1,2241.0ZM1092.1,2239.3L1099.4,2254.3L1084.8,2254.3ZM1108.1,2224.6L1115.4,2239.6L1100.8,2239.6ZM1118.8,2212.6L1126.1,2227.6L1111.5,2227.6ZM1136.2,2217.9L1143.5,2232.9L1128.9,2232.9ZM1148.3,2217.9L1155.6,2232.9L1141.0,2232.9ZM1163.0,2215.3L1170.3,2230.3L1155.7,2230.3ZM1169.7,2217.9L1177.0,2232.9L1162.4,2232.9ZM1179.1,2217.9L1186.4,2232.9L1171.8,2232.9ZM1189.8,2221.9L1197.1,2236.9L1182.5,2236.9ZM1022.5,2244.7L1029.8,2259.7L1015.2,2259.7ZM1041.2,2252.7L1048.5,2267.7L1033.9,2267.7ZM1055.9,2246.0L1063.2,2261.0L1048.6,2261.0ZM1065.3,2255.4L1072.6,2270.4L1058.0,2270.4ZM1081.4,2246.0L1088.7,2261.0L1074.1,2261.0ZM1100.1,2246.0L1107.4,2261.0L1092.8,2261.0ZM1104.1,2248.7L1111.4,2263.7L1096.8,2263.7ZM1117.5,2247.4L1124.8,2262.4L1110.2,2262.4ZM1129.5,2251.4L1136.8,2266.4L1122.2,2266.4ZM1140.2,2238.0L1147.5,2253.0L1132.9,2253.0ZM1155.0,2238.0L1162.3,2253.0L1147.7,2253.0ZM1146.9,2251.4L1154.2,2266.4L1139.6,2266.4ZM1163.0,2232.6L1170.3,2247.6L1155.7,2247.6ZM1025.1,2258.1L1032.4,2273.1L1017.8,2273.1ZM1037.2,2263.4L1044.5,2278.4L1029.9,2278.4ZM1049.2,2264.8L1056.5,2279.8L1041.9,2279.8ZM1061.3,2259.4L1068.6,2274.4L1054.0,2274.4ZM1073.3,2264.8L1080.6,2279.8L1066.0,2279.8ZM1085.4,2259.4L1092.7,2274.4L1078.1,2274.4ZM1104.1,2262.1L1111.4,2277.1L1096.8,2277.1ZM1114.8,2262.1L1122.1,2277.1L1107.5,2277.1ZM1132.2,2262.1L1139.5,2277.1L1124.9,2277.1ZM1152.3,2262.1L1159.6,2277.1L1145.0,2277.1ZM1011.8,2278.2L1019.1,2293.2L1004.5,2293.2ZM1022.5,2270.1L1029.8,2285.1L1015.2,2285.1ZM1034.5,2272.8L1041.8,2287.8L1027.2,2287.8ZM1046.6,2275.5L1053.9,2290.5L1039.3,2290.5ZM1059.9,2275.5L1067.2,2290.5L1052.6,2290.5ZM1068.0,2272.8L1075.3,2287.8L1060.7,2287.8ZM1082.7,2272.8L1090.0,2287.8L1075.4,2287.8ZM1092.1,2271.5L1099.4,2286.5L1084.8,2286.5ZM1001.1,2295.5L1008.4,2310.5L993.8,2310.5ZM1011.8,2296.9L1019.1,2311.9L1004.5,2311.9ZM1023.8,2296.9L1031.1,2311.9L1016.5,2311.9ZM1031.8,2303.6L1039.1,2318.6L1024.5,2318.6ZM1045.2,2288.9L1052.5,2303.9L1037.9,2303.9ZM1055.9,2286.2L1063.2,2301.2L1048.6,2301.2ZM1064.0,2284.8L1071.3,2299.8L1056.7,2299.8ZM1013.1,2312.9L1020.4,2327.9L1005.8,2327.9ZM1199.1,2264.8L1206.4,2279.8L1191.8,2279.8ZM1376.3,2125.9L1383.6,2140.9L1369.0,2140.9ZM1383.7,2166.0L1391.0,2181.0L1376.4,2181.0ZM1405.8,2170.0L1413.1,2185.0L1398.5,2185.0ZM1221.8,2230.3L1229.1,2245.3L1214.5,2245.3ZM1215.1,2262.4L1222.4,2277.4L1207.8,2277.4ZM1244.5,2262.4L1251.8,2277.4L1237.2,2277.4ZM1264.6,2262.4L1271.9,2277.4L1257.3,2277.4ZM1278.0,2262.4L1285.3,2277.4L1270.7,2277.4ZM1304.7,2262.4L1312.0,2277.4L1297.4,2277.4ZM1359.2,2056.7L1366.5,2071.7L1351.9,2071.7ZM1386.9,2058.2L1394.2,2073.2L1379.6,2073.2ZM1397.7,2064.5L1405.0,2079.5L1390.4,2079.5ZM1020.7,2216.5L1028.0,2231.5L1013.4,2231.5ZM1056.4,2216.5L1063.7,2231.5L1049.1,2231.5ZM1074.2,2214.2L1081.5,2229.2L1066.9,2229.2ZM1101.0,2216.5L1108.3,2231.5L1093.7,2231.5ZM1116.6,2216.5L1123.9,2231.5L1109.3,2231.5ZM1136.7,2218.7L1144.0,2233.7L1129.4,2233.7ZM1154.5,2216.5L1161.8,2231.5L1147.2,2231.5ZM1170.1,2216.5L1177.4,2231.5L1162.8,2231.5ZM1185.7,2214.2L1193.0,2229.2L1178.4,2229.2ZM1221.4,2218.7L1228.7,2233.7L1214.1,2233.7ZM1234.8,2218.7L1242.1,2233.7L1227.5,2233.7ZM1261.6,2218.7L1268.9,2233.7L1254.3,2233.7ZM1275.0,2218.7L1282.3,2233.7L1267.7,2233.7ZM1292.8,2218.7L1300.1,2233.7L1285.5,2233.7ZM1308.4,2218.7L1315.7,2233.7L1301.1,2233.7ZM1321.8,2218.7L1329.1,2233.7L1314.5,2233.7Z" fill="#ff0000" stroke="#000" stroke-width="2.3" stroke-linejoin="round"/>
<line x1="997.2" y1="2252.6" x2="1405.0" y2="2159.4" stroke="#3b6fd6" stroke-width="3.7" stroke-dasharray="0.1 8.2" stroke-linecap="round"/>
<rect x="997.2" y="1665.0" width="709.2" height="677.9" fill="none" stroke="#000" stroke-width="2.6"/>
<path d="M997.2,2342.9v10.5M997.2,2342.9h-11.0M1085.9,2342.9v10.5M997.2,2258.2h-11.0M1174.5,2342.9v10.5M997.2,2173.4h-11.0M1263.2,2342.9v10.5M997.2,2088.7h-11.0M1351.8,2342.9v10.5M997.2,2004.0h-11.0M1440.5,2342.9v10.5M997.2,1919.2h-11.0M1529.1,2342.9v10.5M997.2,1834.5h-11.0M1617.8,2342.9v10.5M997.2,1749.7h-11.0M1706.4,2342.9v10.5M997.2,1665.0h-11.0" stroke="#000" stroke-width="2.6" fill="none"/>
<path d="M1365.3,2265.7L1372.6,2280.7L1358.0,2280.7Z" fill="#ff0000" stroke="#000" stroke-width="2.3" stroke-linejoin="round"/>
<line x1="1336.5" y1="2312.9" x2="1394.7" y2="2312.9" stroke="#000" stroke-width="2.8"/>
<text transform="translate(64.3,702.5) scale(0.914,1)" font-size="40.00">0</text>
<text transform="translate(106.0,747.6) scale(0.914,1)" font-size="40.00">0</text>
<text transform="translate(36.9,618.0) scale(0.914,1)" font-size="40.00">0.5</text>
<text transform="translate(181.2,747.6) scale(0.914,1)" font-size="40.00">0.5</text>
<text transform="translate(65.0,533.8) scale(0.914,1)" font-size="40.00">1</text>
<text transform="translate(283.3,747.4) scale(0.914,1)" font-size="40.00">1</text>
<text transform="translate(36.9,449.1) scale(0.914,1)" font-size="40.00">1.5</text>
<text transform="translate(358.2,747.4) scale(0.914,1)" font-size="40.00">1.5</text>
<text transform="translate(64.8,364.9) scale(0.914,1)" font-size="40.00">2</text>
<text transform="translate(461.9,747.4) scale(0.914,1)" font-size="40.00">2</text>
<text transform="translate(36.9,280.2) scale(0.914,1)" font-size="40.00">2.5</text>
<text transform="translate(536.9,747.4) scale(0.914,1)" font-size="40.00">2.5</text>
<text transform="translate(64.3,195.9) scale(0.914,1)" font-size="40.00">3</text>
<text transform="translate(639.5,747.4) scale(0.914,1)" font-size="40.00">3</text>
<text transform="translate(36.9,111.4) scale(0.914,1)" font-size="40.00">3.5</text>
<text transform="translate(714.7,747.4) scale(0.914,1)" font-size="40.00">3.5</text>
<text transform="translate(63.4,27.3) scale(0.914,1)" font-size="40.00">4</text>
<text transform="translate(817.5,747.4) scale(0.914,1)" font-size="40.00">4</text>
<text transform="translate(122.5,62.7) scale(0.935,1)" font-size="39.25">(SDR)p = 0.40(SDR)o + 0.58</text>
<text transform="translate(262.8,105.5) scale(0.935,1)" font-size="38.74">R² = 0.318</text>
<text transform="translate(791.4,86.0) scale(0.935,1)" font-size="40.18">a)</text>
<text transform="translate(620.7,639.4) scale(0.935,1)" font-size="39.60">Neill (1964)</text>
<text transform="translate(620.7,680.3) scale(0.935,1)" font-size="39.76">Best fit line</text>
<text transform="translate(372.0,788.6) scale(0.935,1)" font-size="39.51">Observed SDR</text>
<text transform="translate(27.7,474.7) rotate(-90) scale(1,0.95)" font-size="38.70">Predicted SDR</text>
<text transform="translate(935.9,699.5) scale(0.914,1)" font-size="40.00">0</text>
<text transform="translate(977.3,742.6) scale(0.914,1)" font-size="40.00">0</text>
<text transform="translate(908.5,615.4) scale(0.914,1)" font-size="40.00">0.5</text>
<text transform="translate(1052.9,742.6) scale(0.914,1)" font-size="40.00">0.5</text>
<text transform="translate(936.6,531.5) scale(0.914,1)" font-size="40.00">1</text>
<text transform="translate(1155.5,742.4) scale(0.914,1)" font-size="40.00">1</text>
<text transform="translate(908.5,447.2) scale(0.914,1)" font-size="40.00">1.5</text>
<text transform="translate(1230.8,742.4) scale(0.914,1)" font-size="40.00">1.5</text>
<text transform="translate(936.4,363.4) scale(0.914,1)" font-size="40.00">2</text>
<text transform="translate(1335.0,742.4) scale(0.914,1)" font-size="40.00">2</text>
<text transform="translate(908.5,279.1) scale(0.914,1)" font-size="40.00">2.5</text>
<text transform="translate(1410.4,742.4) scale(0.914,1)" font-size="40.00">2.5</text>
<text transform="translate(935.9,195.2) scale(0.914,1)" font-size="40.00">3</text>
<text transform="translate(1513.4,742.4) scale(0.914,1)" font-size="40.00">3</text>
<text transform="translate(908.5,111.0) scale(0.914,1)" font-size="40.00">3.5</text>
<text transform="translate(1589.1,742.4) scale(0.914,1)" font-size="40.00">3.5</text>
<text transform="translate(935.0,27.3) scale(0.914,1)" font-size="40.00">4</text>
<text transform="translate(1692.3,742.4) scale(0.914,1)" font-size="40.00">4</text>
<text transform="translate(994.0,59.3) scale(0.935,1)" font-size="39.24">(SDR)p = 0.41(SDR)o + 0.49</text>
<text transform="translate(1135.6,102.6) scale(0.935,1)" font-size="38.29">R² = 0.326</text>
<text transform="translate(1664.3,92.3) scale(0.935,1)" font-size="39.94">b)</text>
<text transform="translate(1510.2,637.6) scale(0.935,1)" font-size="39.38">CSU (1975)</text>
<text transform="translate(1509.7,676.1) scale(0.935,1)" font-size="39.85">Best fit line</text>
<text transform="translate(1244.0,785.4) scale(0.935,1)" font-size="39.37">Observed SDR</text>
<text transform="translate(899.6,474.7) rotate(-90) scale(1,0.95)" font-size="38.70">Predicted SDR</text>
<text transform="translate(53.1,1529.5) scale(0.921,1)" font-size="34.10">0</text>
<text transform="translate(88.1,1570.1) scale(0.921,1)" font-size="34.10">0</text>
<text transform="translate(29.5,1460.5) scale(0.921,1)" font-size="34.10">0.5</text>
<text transform="translate(150.1,1570.1) scale(0.921,1)" font-size="34.10">0.5</text>
<text transform="translate(53.7,1391.9) scale(0.921,1)" font-size="34.10">1</text>
<text transform="translate(235.1,1569.9) scale(0.921,1)" font-size="34.10">1</text>
<text transform="translate(29.5,1322.8) scale(0.921,1)" font-size="34.10">1.5</text>
<text transform="translate(296.8,1569.9) scale(0.921,1)" font-size="34.10">1.5</text>
<text transform="translate(53.5,1254.2) scale(0.921,1)" font-size="34.10">2</text>
<text transform="translate(383.2,1569.9) scale(0.921,1)" font-size="34.10">2</text>
<text transform="translate(29.5,1185.1) scale(0.921,1)" font-size="34.10">2.5</text>
<text transform="translate(444.9,1569.9) scale(0.921,1)" font-size="34.10">2.5</text>
<text transform="translate(53.1,1116.3) scale(0.921,1)" font-size="34.10">3</text>
<text transform="translate(530.4,1569.9) scale(0.921,1)" font-size="34.10">3</text>
<text transform="translate(29.5,1047.4) scale(0.921,1)" font-size="34.10">3.5</text>
<text transform="translate(592.3,1569.9) scale(0.921,1)" font-size="34.10">3.5</text>
<text transform="translate(52.3,978.8) scale(0.921,1)" font-size="34.10">4</text>
<text transform="translate(677.9,1569.9) scale(0.921,1)" font-size="34.10">4</text>
<text transform="translate(29.5,909.7) scale(0.921,1)" font-size="34.10">4.5</text>
<text transform="translate(740.3,1569.9) scale(0.921,1)" font-size="34.10">4.5</text>
<text transform="translate(53.1,840.9) scale(0.921,1)" font-size="34.10">5</text>
<text transform="translate(825.1,1569.7) scale(0.921,1)" font-size="34.10">5</text>
<text transform="translate(123.3,879.0) scale(0.935,1)" font-size="34.06">(SDR)p = 0.31(SDR)o + 0.69</text>
<text transform="translate(244.8,918.1) scale(0.935,1)" font-size="33.83">R² = 0.052</text>
<text transform="translate(798.8,894.8) scale(0.935,1)" font-size="34.32">c)</text>
<text transform="translate(475.9,1472.3) scale(0.935,1)" font-size="34.28">Melville and Chiew (1999)</text>
<text transform="translate(475.9,1509.1) scale(0.935,1)" font-size="34.74">Best fit line</text>
<text transform="translate(372.5,1605.4) scale(0.935,1)" font-size="34.27">Observed SDR</text>
<text transform="translate(24.0,1267.9) rotate(-90) scale(1,0.95)" font-size="34.58">Predicted SDR</text>
<text transform="translate(932.2,1533.9) scale(0.921,1)" font-size="34.10">0</text>
<text transform="translate(969.7,1572.6) scale(0.921,1)" font-size="34.10">0</text>
<text transform="translate(908.6,1464.6) scale(0.921,1)" font-size="34.10">0.5</text>
<text transform="translate(1030.6,1572.6) scale(0.921,1)" font-size="34.10">0.5</text>
<text transform="translate(932.8,1395.6) scale(0.921,1)" font-size="34.10">1</text>
<text transform="translate(1114.6,1572.4) scale(0.921,1)" font-size="34.10">1</text>
<text transform="translate(908.6,1326.2) scale(0.921,1)" font-size="34.10">1.5</text>
<text transform="translate(1175.2,1572.4) scale(0.921,1)" font-size="34.10">1.5</text>
<text transform="translate(932.6,1257.3) scale(0.921,1)" font-size="34.10">2</text>
<text transform="translate(1260.5,1572.4) scale(0.921,1)" font-size="34.10">2</text>
<text transform="translate(908.6,1187.9) scale(0.921,1)" font-size="34.10">2.5</text>
<text transform="translate(1321.2,1572.4) scale(0.921,1)" font-size="34.10">2.5</text>
<text transform="translate(932.2,1118.8) scale(0.921,1)" font-size="34.10">3</text>
<text transform="translate(1405.6,1572.4) scale(0.921,1)" font-size="34.10">3</text>
<text transform="translate(908.6,1049.6) scale(0.921,1)" font-size="34.10">3.5</text>
<text transform="translate(1466.4,1572.4) scale(0.921,1)" font-size="34.10">3.5</text>
<text transform="translate(931.4,980.7) scale(0.921,1)" font-size="34.10">4</text>
<text transform="translate(1550.9,1572.4) scale(0.921,1)" font-size="34.10">4</text>
<text transform="translate(908.6,911.3) scale(0.921,1)" font-size="34.10">4.5</text>
<text transform="translate(1612.2,1572.4) scale(0.921,1)" font-size="34.10">4.5</text>
<text transform="translate(932.2,842.1) scale(0.921,1)" font-size="34.10">5</text>
<text transform="translate(1696.0,1572.2) scale(0.921,1)" font-size="34.10">5</text>
<text transform="translate(989.3,874.7) scale(0.935,1)" font-size="35.54">(SDR)p = -0.0966(SDR)o + 0.8084</text>
<text transform="translate(1146.3,915.3) scale(0.935,1)" font-size="34.63">R² = 0.0074</text>
<text transform="translate(1665.6,898.4) scale(0.935,1)" font-size="37.54">d)</text>
<text transform="translate(1351.6,1467.3) scale(0.935,1)" font-size="35.85">Oliveto and Hager (2002)</text>
<text transform="translate(1351.9,1508.8) scale(0.935,1)" font-size="36.11">Best fit line</text>
<text transform="translate(1241.8,1606.1) scale(0.935,1)" font-size="35.81">Observed SDR</text>
<text transform="translate(899.1,1268.5) rotate(-90) scale(1,0.95)" font-size="35.17">Predicted SDR</text>
<text transform="translate(74.9,2358.4) scale(0.914,1)" font-size="40.00">0</text>
<text transform="translate(116.3,2403.2) scale(0.914,1)" font-size="40.00">0</text>
<text transform="translate(47.5,2273.2) scale(0.914,1)" font-size="40.00">0.5</text>
<text transform="translate(191.2,2403.2) scale(0.914,1)" font-size="40.00">0.5</text>
<text transform="translate(75.6,2188.2) scale(0.914,1)" font-size="40.00">1</text>
<text transform="translate(293.0,2403.0) scale(0.914,1)" font-size="40.00">1</text>
<text transform="translate(47.5,2102.8) scale(0.914,1)" font-size="40.00">1.5</text>
<text transform="translate(367.5,2403.0) scale(0.914,1)" font-size="40.00">1.5</text>
<text transform="translate(75.4,2018.0) scale(0.914,1)" font-size="40.00">2</text>
<text transform="translate(471.0,2403.0) scale(0.914,1)" font-size="40.00">2</text>
<text transform="translate(47.5,1932.6) scale(0.914,1)" font-size="40.00">2.5</text>
<text transform="translate(545.6,2403.0) scale(0.914,1)" font-size="40.00">2.5</text>
<text transform="translate(74.9,1847.6) scale(0.914,1)" font-size="40.00">3</text>
<text transform="translate(647.9,2403.0) scale(0.914,1)" font-size="40.00">3</text>
<text transform="translate(47.5,1762.3) scale(0.914,1)" font-size="40.00">3.5</text>
<text transform="translate(722.8,2403.0) scale(0.914,1)" font-size="40.00">3.5</text>
<text transform="translate(74.0,1677.5) scale(0.914,1)" font-size="40.00">4</text>
<text transform="translate(825.3,2403.0) scale(0.914,1)" font-size="40.00">4</text>
<text transform="translate(135.5,1712.7) scale(0.935,1)" font-size="38.96">(SDR)p = 0.14(SDR)o + 0.37</text>
<text transform="translate(275.6,1755.5) scale(0.935,1)" font-size="38.39">R² = 0.193</text>
<text transform="translate(799.1,1736.4) scale(0.935,1)" font-size="39.55">e)</text>
<text transform="translate(575.2,2284.3) scale(0.935,1)" font-size="39.44">Kim et al. (2015)</text>
<text transform="translate(575.2,2324.8) scale(0.935,1)" font-size="39.80">Best fit line</text>
<text transform="translate(372.0,2437.6) scale(0.935,1)" font-size="39.19">Observed SDR</text>
<text transform="translate(39.1,2124.7) rotate(-90) scale(1,0.95)" font-size="38.70">Predicted SDR</text>
<text transform="translate(946.3,2355.4) scale(0.914,1)" font-size="40.00">0</text>
<text transform="translate(988.1,2400.2) scale(0.914,1)" font-size="40.00">0</text>
<text transform="translate(918.9,2270.6) scale(0.914,1)" font-size="40.00">0.5</text>
<text transform="translate(1063.0,2400.2) scale(0.914,1)" font-size="40.00">0.5</text>
<text transform="translate(947.0,2186.0) scale(0.914,1)" font-size="40.00">1</text>
<text transform="translate(1164.8,2400.0) scale(0.914,1)" font-size="40.00">1</text>
<text transform="translate(918.9,2101.0) scale(0.914,1)" font-size="40.00">1.5</text>
<text transform="translate(1239.4,2400.0) scale(0.914,1)" font-size="40.00">1.5</text>
<text transform="translate(946.8,2016.6) scale(0.914,1)" font-size="40.00">2</text>
<text transform="translate(1342.8,2400.0) scale(0.914,1)" font-size="40.00">2</text>
<text transform="translate(918.9,1931.5) scale(0.914,1)" font-size="40.00">2.5</text>
<text transform="translate(1417.5,2400.0) scale(0.914,1)" font-size="40.00">2.5</text>
<text transform="translate(946.3,1846.9) scale(0.914,1)" font-size="40.00">3</text>
<text transform="translate(1519.8,2400.0) scale(0.914,1)" font-size="40.00">3</text>
<text transform="translate(918.9,1762.0) scale(0.914,1)" font-size="40.00">3.5</text>
<text transform="translate(1594.7,2400.0) scale(0.914,1)" font-size="40.00">3.5</text>
<text transform="translate(945.4,1677.6) scale(0.914,1)" font-size="40.00">4</text>
<text transform="translate(1697.2,2400.0) scale(0.914,1)" font-size="40.00">4</text>
<text transform="translate(1009.8,1708.5) scale(0.935,1)" font-size="38.99">(SDR)p = 0.24(SDR)o + 0.53</text>
<text transform="translate(1157.1,1752.6) scale(0.935,1)" font-size="38.76">R² = 0.22</text>
<text transform="translate(1679.0,1733.5) scale(0.935,1)" font-size="38.11">f)</text>
<text transform="translate(1399.9,2284.9) scale(0.935,1)" font-size="39.59">Pandey et al. (2018)</text>
<text transform="translate(1399.9,2324.1) scale(0.935,1)" font-size="39.99">Best fit line</text>
<text transform="translate(1252.0,2438.0) scale(0.935,1)" font-size="39.44">Observed SDR</text>
<text transform="translate(910.8,2124.7) rotate(-90) scale(1,0.95)" font-size="38.70">Predicted SDR</text>
</svg>
</body></html>
